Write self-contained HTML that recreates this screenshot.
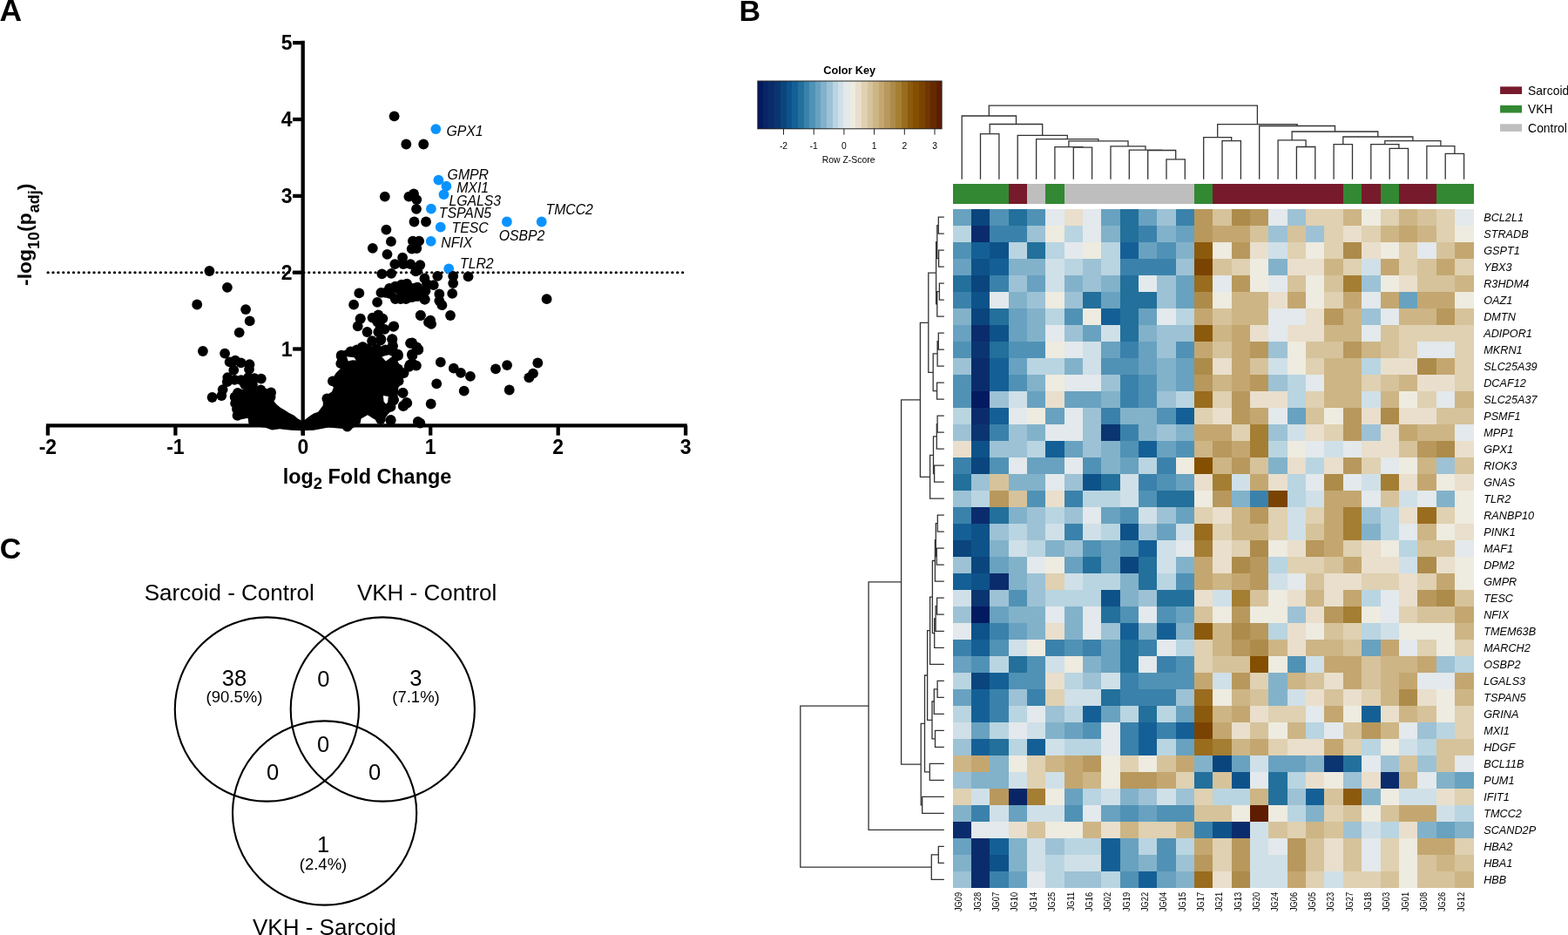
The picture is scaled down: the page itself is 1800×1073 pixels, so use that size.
<!DOCTYPE html>
<html><head><meta charset="utf-8"><title>Figure</title>
<style>html,body{margin:0;padding:0;background:#fff;} body{width:1800px;height:1073px;overflow:hidden;} svg{display:block;}</style>
</head><body>
<svg width="1800" height="1073" viewBox="0 0 1800 1073"><text x="-0.6" y="23.8" font-size="35.5" font-weight="bold" font-family="Liberation Sans, Arial, Helvetica, sans-serif">A</text>
<text x="848.5" y="23.8" font-size="34" font-weight="bold" font-family="Liberation Sans, Arial, Helvetica, sans-serif">B</text>
<text x="-0.3" y="641.2" font-size="34" font-weight="bold" font-family="Liberation Sans, Arial, Helvetica, sans-serif">C</text>
<line x1="53" y1="488.4" x2="788.7" y2="488.4" stroke="#000" stroke-width="4.3"/>
<line x1="54.9" y1="488.4" x2="54.9" y2="499.7" stroke="#000" stroke-width="4.3"/>
<text x="54.9" y="520.6" font-size="23" font-weight="bold" text-anchor="middle" font-family="Liberation Sans, Arial, Helvetica, sans-serif">-2</text>
<line x1="201.4" y1="488.4" x2="201.4" y2="499.7" stroke="#000" stroke-width="4.3"/>
<text x="201.4" y="520.6" font-size="23" font-weight="bold" text-anchor="middle" font-family="Liberation Sans, Arial, Helvetica, sans-serif">-1</text>
<line x1="347.8" y1="488.4" x2="347.8" y2="499.7" stroke="#000" stroke-width="4.3"/>
<text x="347.8" y="520.6" font-size="23" font-weight="bold" text-anchor="middle" font-family="Liberation Sans, Arial, Helvetica, sans-serif">0</text>
<line x1="494.2" y1="488.4" x2="494.2" y2="499.7" stroke="#000" stroke-width="4.3"/>
<text x="494.2" y="520.6" font-size="23" font-weight="bold" text-anchor="middle" font-family="Liberation Sans, Arial, Helvetica, sans-serif">1</text>
<line x1="640.7" y1="488.4" x2="640.7" y2="499.7" stroke="#000" stroke-width="4.3"/>
<text x="640.7" y="520.6" font-size="23" font-weight="bold" text-anchor="middle" font-family="Liberation Sans, Arial, Helvetica, sans-serif">2</text>
<line x1="787.1" y1="488.4" x2="787.1" y2="499.7" stroke="#000" stroke-width="4.3"/>
<text x="787.1" y="520.6" font-size="23" font-weight="bold" text-anchor="middle" font-family="Liberation Sans, Arial, Helvetica, sans-serif">3</text>
<line x1="347.7" y1="46.8" x2="347.7" y2="499.7" stroke="#000" stroke-width="4.3"/>
<line x1="336.1" y1="400.5" x2="347.7" y2="400.5" stroke="#000" stroke-width="4.3"/>
<text x="335.6" y="408.8" font-size="23" font-weight="bold" text-anchor="end" font-family="Liberation Sans, Arial, Helvetica, sans-serif">1</text>
<line x1="336.1" y1="312.7" x2="347.7" y2="312.7" stroke="#000" stroke-width="4.3"/>
<text x="335.6" y="321.0" font-size="23" font-weight="bold" text-anchor="end" font-family="Liberation Sans, Arial, Helvetica, sans-serif">2</text>
<line x1="336.1" y1="224.9" x2="347.7" y2="224.9" stroke="#000" stroke-width="4.3"/>
<text x="335.6" y="233.2" font-size="23" font-weight="bold" text-anchor="end" font-family="Liberation Sans, Arial, Helvetica, sans-serif">3</text>
<line x1="336.1" y1="137.0" x2="347.7" y2="137.0" stroke="#000" stroke-width="4.3"/>
<text x="335.6" y="145.3" font-size="23" font-weight="bold" text-anchor="end" font-family="Liberation Sans, Arial, Helvetica, sans-serif">4</text>
<line x1="336.1" y1="49.1" x2="347.7" y2="49.1" stroke="#000" stroke-width="4.3"/>
<text x="335.6" y="57.4" font-size="23" font-weight="bold" text-anchor="end" font-family="Liberation Sans, Arial, Helvetica, sans-serif">5</text>
<text x="421.5" y="555.1" font-size="23.4" font-weight="bold" text-anchor="middle" font-family="Liberation Sans, Arial, Helvetica, sans-serif">log<tspan font-size="18.4" dy="5.6">2</tspan><tspan dy="-5.6"> Fold Change</tspan></text>
<text transform="translate(36.3,269.3) rotate(-90)" x="0" y="0" font-size="22.9" font-weight="bold" text-anchor="middle" font-family="Liberation Sans, Arial, Helvetica, sans-serif">-log<tspan font-size="18" dy="8.6">10</tspan><tspan dy="-8.6">(p</tspan><tspan font-size="18" dy="8.6">adj</tspan><tspan dy="-8.6">)</tspan></text>
<g fill="#000"><ellipse cx="55.15" cy="312.7" rx="1.65" ry="1.5"/><ellipse cx="61.02" cy="312.7" rx="1.65" ry="1.5"/><ellipse cx="66.90" cy="312.7" rx="1.65" ry="1.5"/><ellipse cx="72.78" cy="312.7" rx="1.65" ry="1.5"/><ellipse cx="78.65" cy="312.7" rx="1.65" ry="1.5"/><ellipse cx="84.53" cy="312.7" rx="1.65" ry="1.5"/><ellipse cx="90.40" cy="312.7" rx="1.65" ry="1.5"/><ellipse cx="96.28" cy="312.7" rx="1.65" ry="1.5"/><ellipse cx="102.15" cy="312.7" rx="1.65" ry="1.5"/><ellipse cx="108.03" cy="312.7" rx="1.65" ry="1.5"/><ellipse cx="113.90" cy="312.7" rx="1.65" ry="1.5"/><ellipse cx="119.78" cy="312.7" rx="1.65" ry="1.5"/><ellipse cx="125.65" cy="312.7" rx="1.65" ry="1.5"/><ellipse cx="131.53" cy="312.7" rx="1.65" ry="1.5"/><ellipse cx="137.40" cy="312.7" rx="1.65" ry="1.5"/><ellipse cx="143.28" cy="312.7" rx="1.65" ry="1.5"/><ellipse cx="149.15" cy="312.7" rx="1.65" ry="1.5"/><ellipse cx="155.03" cy="312.7" rx="1.65" ry="1.5"/><ellipse cx="160.90" cy="312.7" rx="1.65" ry="1.5"/><ellipse cx="166.78" cy="312.7" rx="1.65" ry="1.5"/><ellipse cx="172.65" cy="312.7" rx="1.65" ry="1.5"/><ellipse cx="178.53" cy="312.7" rx="1.65" ry="1.5"/><ellipse cx="184.40" cy="312.7" rx="1.65" ry="1.5"/><ellipse cx="190.28" cy="312.7" rx="1.65" ry="1.5"/><ellipse cx="196.15" cy="312.7" rx="1.65" ry="1.5"/><ellipse cx="202.03" cy="312.7" rx="1.65" ry="1.5"/><ellipse cx="207.90" cy="312.7" rx="1.65" ry="1.5"/><ellipse cx="213.78" cy="312.7" rx="1.65" ry="1.5"/><ellipse cx="219.65" cy="312.7" rx="1.65" ry="1.5"/><ellipse cx="225.53" cy="312.7" rx="1.65" ry="1.5"/><ellipse cx="231.40" cy="312.7" rx="1.65" ry="1.5"/><ellipse cx="237.28" cy="312.7" rx="1.65" ry="1.5"/><ellipse cx="243.15" cy="312.7" rx="1.65" ry="1.5"/><ellipse cx="249.03" cy="312.7" rx="1.65" ry="1.5"/><ellipse cx="254.90" cy="312.7" rx="1.65" ry="1.5"/><ellipse cx="260.77" cy="312.7" rx="1.65" ry="1.5"/><ellipse cx="266.65" cy="312.7" rx="1.65" ry="1.5"/><ellipse cx="272.52" cy="312.7" rx="1.65" ry="1.5"/><ellipse cx="278.40" cy="312.7" rx="1.65" ry="1.5"/><ellipse cx="284.27" cy="312.7" rx="1.65" ry="1.5"/><ellipse cx="290.15" cy="312.7" rx="1.65" ry="1.5"/><ellipse cx="296.02" cy="312.7" rx="1.65" ry="1.5"/><ellipse cx="301.90" cy="312.7" rx="1.65" ry="1.5"/><ellipse cx="307.77" cy="312.7" rx="1.65" ry="1.5"/><ellipse cx="313.65" cy="312.7" rx="1.65" ry="1.5"/><ellipse cx="319.52" cy="312.7" rx="1.65" ry="1.5"/><ellipse cx="325.40" cy="312.7" rx="1.65" ry="1.5"/><ellipse cx="331.27" cy="312.7" rx="1.65" ry="1.5"/><ellipse cx="337.15" cy="312.7" rx="1.65" ry="1.5"/><ellipse cx="343.02" cy="312.7" rx="1.65" ry="1.5"/><ellipse cx="348.90" cy="312.7" rx="1.65" ry="1.5"/><ellipse cx="354.77" cy="312.7" rx="1.65" ry="1.5"/><ellipse cx="360.65" cy="312.7" rx="1.65" ry="1.5"/><ellipse cx="366.52" cy="312.7" rx="1.65" ry="1.5"/><ellipse cx="372.40" cy="312.7" rx="1.65" ry="1.5"/><ellipse cx="378.27" cy="312.7" rx="1.65" ry="1.5"/><ellipse cx="384.15" cy="312.7" rx="1.65" ry="1.5"/><ellipse cx="390.02" cy="312.7" rx="1.65" ry="1.5"/><ellipse cx="395.90" cy="312.7" rx="1.65" ry="1.5"/><ellipse cx="401.77" cy="312.7" rx="1.65" ry="1.5"/><ellipse cx="407.65" cy="312.7" rx="1.65" ry="1.5"/><ellipse cx="413.52" cy="312.7" rx="1.65" ry="1.5"/><ellipse cx="419.40" cy="312.7" rx="1.65" ry="1.5"/><ellipse cx="425.27" cy="312.7" rx="1.65" ry="1.5"/><ellipse cx="431.15" cy="312.7" rx="1.65" ry="1.5"/><ellipse cx="437.02" cy="312.7" rx="1.65" ry="1.5"/><ellipse cx="442.90" cy="312.7" rx="1.65" ry="1.5"/><ellipse cx="448.77" cy="312.7" rx="1.65" ry="1.5"/><ellipse cx="454.65" cy="312.7" rx="1.65" ry="1.5"/><ellipse cx="460.52" cy="312.7" rx="1.65" ry="1.5"/><ellipse cx="466.40" cy="312.7" rx="1.65" ry="1.5"/><ellipse cx="472.27" cy="312.7" rx="1.65" ry="1.5"/><ellipse cx="478.15" cy="312.7" rx="1.65" ry="1.5"/><ellipse cx="484.02" cy="312.7" rx="1.65" ry="1.5"/><ellipse cx="489.90" cy="312.7" rx="1.65" ry="1.5"/><ellipse cx="495.77" cy="312.7" rx="1.65" ry="1.5"/><ellipse cx="501.65" cy="312.7" rx="1.65" ry="1.5"/><ellipse cx="507.52" cy="312.7" rx="1.65" ry="1.5"/><ellipse cx="513.40" cy="312.7" rx="1.65" ry="1.5"/><ellipse cx="519.27" cy="312.7" rx="1.65" ry="1.5"/><ellipse cx="525.15" cy="312.7" rx="1.65" ry="1.5"/><ellipse cx="531.02" cy="312.7" rx="1.65" ry="1.5"/><ellipse cx="536.90" cy="312.7" rx="1.65" ry="1.5"/><ellipse cx="542.77" cy="312.7" rx="1.65" ry="1.5"/><ellipse cx="548.65" cy="312.7" rx="1.65" ry="1.5"/><ellipse cx="554.52" cy="312.7" rx="1.65" ry="1.5"/><ellipse cx="560.40" cy="312.7" rx="1.65" ry="1.5"/><ellipse cx="566.27" cy="312.7" rx="1.65" ry="1.5"/><ellipse cx="572.15" cy="312.7" rx="1.65" ry="1.5"/><ellipse cx="578.02" cy="312.7" rx="1.65" ry="1.5"/><ellipse cx="583.90" cy="312.7" rx="1.65" ry="1.5"/><ellipse cx="589.77" cy="312.7" rx="1.65" ry="1.5"/><ellipse cx="595.65" cy="312.7" rx="1.65" ry="1.5"/><ellipse cx="601.52" cy="312.7" rx="1.65" ry="1.5"/><ellipse cx="607.40" cy="312.7" rx="1.65" ry="1.5"/><ellipse cx="613.27" cy="312.7" rx="1.65" ry="1.5"/><ellipse cx="619.15" cy="312.7" rx="1.65" ry="1.5"/><ellipse cx="625.02" cy="312.7" rx="1.65" ry="1.5"/><ellipse cx="630.90" cy="312.7" rx="1.65" ry="1.5"/><ellipse cx="636.77" cy="312.7" rx="1.65" ry="1.5"/><ellipse cx="642.65" cy="312.7" rx="1.65" ry="1.5"/><ellipse cx="648.52" cy="312.7" rx="1.65" ry="1.5"/><ellipse cx="654.40" cy="312.7" rx="1.65" ry="1.5"/><ellipse cx="660.27" cy="312.7" rx="1.65" ry="1.5"/><ellipse cx="666.15" cy="312.7" rx="1.65" ry="1.5"/><ellipse cx="672.02" cy="312.7" rx="1.65" ry="1.5"/><ellipse cx="677.90" cy="312.7" rx="1.65" ry="1.5"/><ellipse cx="683.77" cy="312.7" rx="1.65" ry="1.5"/><ellipse cx="689.65" cy="312.7" rx="1.65" ry="1.5"/><ellipse cx="695.52" cy="312.7" rx="1.65" ry="1.5"/><ellipse cx="701.40" cy="312.7" rx="1.65" ry="1.5"/><ellipse cx="707.27" cy="312.7" rx="1.65" ry="1.5"/><ellipse cx="713.15" cy="312.7" rx="1.65" ry="1.5"/><ellipse cx="719.02" cy="312.7" rx="1.65" ry="1.5"/><ellipse cx="724.90" cy="312.7" rx="1.65" ry="1.5"/><ellipse cx="730.77" cy="312.7" rx="1.65" ry="1.5"/><ellipse cx="736.65" cy="312.7" rx="1.65" ry="1.5"/><ellipse cx="742.52" cy="312.7" rx="1.65" ry="1.5"/><ellipse cx="748.40" cy="312.7" rx="1.65" ry="1.5"/><ellipse cx="754.27" cy="312.7" rx="1.65" ry="1.5"/><ellipse cx="760.15" cy="312.7" rx="1.65" ry="1.5"/><ellipse cx="766.02" cy="312.7" rx="1.65" ry="1.5"/><ellipse cx="771.90" cy="312.7" rx="1.65" ry="1.5"/><ellipse cx="777.77" cy="312.7" rx="1.65" ry="1.5"/><ellipse cx="783.65" cy="312.7" rx="1.65" ry="1.5"/></g>
<g fill="#0a93ff">
<circle cx="500.3" cy="148.1" r="5.9"/>
<circle cx="503.4" cy="206.7" r="5.9"/>
<circle cx="512.4" cy="213.7" r="5.9"/>
<circle cx="509.5" cy="223.2" r="5.9"/>
<circle cx="494.9" cy="239.7" r="5.9"/>
<circle cx="505.7" cy="260.7" r="5.9"/>
<circle cx="494.7" cy="276.8" r="5.9"/>
<circle cx="515.2" cy="308.3" r="5.9"/>
<circle cx="581.9" cy="254.5" r="5.9"/>
<circle cx="621.7" cy="254.5" r="5.9"/>
</g>
<g fill="#000">
<polygon points="266.0,462.5 264.1,455.8 266.7,451.3 271.2,448.3 277.2,446.8 285.0,446.0 292.0,444.0 300.0,444.0 304.7,445.4 307.7,446.8 312.2,445.4 316.3,449.8 315.9,455.8 314.4,460.3 317.4,464.0 321.9,467.7 327.1,470.7 331.6,473.7 337.6,476.7 342.0,480.4 345.8,482.6 349.5,481.9 355.5,477.4 360.0,474.4 365.2,472.7 370.8,465.2 370.8,455.9 375.4,453.1 381.0,449.4 382.9,444.7 378.2,437.3 382.9,432.6 385.7,428.0 391.3,422.4 387.5,416.8 386.6,408.4 392.2,403.7 400.0,400.0 410.0,399.0 420.0,397.0 432.0,398.0 445.0,397.0 452.0,395.0 456.0,400.0 461.2,408.4 456.5,414.9 462.1,423.3 463.0,437.3 457.4,444.7 456.5,455.9 453.7,467.1 445.3,475.5 440.7,482.0 436.9,484.8 429.5,481.0 422.0,476.3 414.6,480.6 413.6,485.7 403.4,492.3 395.9,492.3 377.3,490.4 360.0,493.8 345.8,494.2 334.6,493.8 327.1,493.1 321.1,492.3 312.2,493.5 304.7,490.8 290.0,489.0 285.4,486.0 284.6,479.7 278.6,481.1 271.9,481.9 267.8,477.4 268.9,472.2 266.7,466.2"/>
<circle cx="452.6" cy="133.3" r="5.9"/>
<circle cx="466.3" cy="165.5" r="5.9"/>
<circle cx="486.2" cy="165.5" r="5.9"/>
<circle cx="441.8" cy="225.6" r="5.9"/>
<circle cx="469.4" cy="225.6" r="5.9"/>
<circle cx="475.0" cy="222.4" r="5.9"/>
<circle cx="478.3" cy="229.1" r="5.9"/>
<circle cx="478.0" cy="239.8" r="5.9"/>
<circle cx="475.5" cy="254.5" r="5.9"/>
<circle cx="489.0" cy="254.5" r="5.9"/>
<circle cx="443.4" cy="263.6" r="5.9"/>
<circle cx="448.9" cy="277.2" r="5.9"/>
<circle cx="427.8" cy="284.8" r="5.9"/>
<circle cx="444.5" cy="291.8" r="5.9"/>
<circle cx="473.9" cy="276.7" r="5.9"/>
<circle cx="481.1" cy="276.7" r="5.9"/>
<circle cx="472.7" cy="285.6" r="5.9"/>
<circle cx="478.3" cy="285.0" r="5.9"/>
<circle cx="462.1" cy="295.7" r="5.9"/>
<circle cx="438.4" cy="314.3" r="5.9"/>
<circle cx="449.2" cy="313.8" r="5.9"/>
<circle cx="453.3" cy="303.1" r="5.9"/>
<circle cx="463.0" cy="303.1" r="5.9"/>
<circle cx="471.2" cy="303.1" r="5.9"/>
<circle cx="477.3" cy="311.3" r="5.9"/>
<circle cx="482.3" cy="304.1" r="5.9"/>
<circle cx="412.3" cy="336.4" r="5.9"/>
<circle cx="406.1" cy="349.7" r="5.9"/>
<circle cx="433.1" cy="346.9" r="5.9"/>
<circle cx="437.4" cy="335.9" r="5.9"/>
<circle cx="442.5" cy="335.9" r="5.9"/>
<circle cx="453.8" cy="328.7" r="5.9"/>
<circle cx="453.8" cy="343.0" r="5.9"/>
<circle cx="460.9" cy="326.6" r="5.9"/>
<circle cx="467.1" cy="325.6" r="5.9"/>
<circle cx="459.9" cy="343.0" r="5.9"/>
<circle cx="470.2" cy="341.0" r="5.9"/>
<circle cx="476.3" cy="330.7" r="5.9"/>
<circle cx="413.8" cy="365.6" r="5.9"/>
<circle cx="410.7" cy="374.3" r="5.9"/>
<circle cx="421.5" cy="381.0" r="5.9"/>
<circle cx="427.6" cy="364.6" r="5.9"/>
<circle cx="434.3" cy="361.5" r="5.9"/>
<circle cx="439.4" cy="365.6" r="5.9"/>
<circle cx="436.3" cy="373.8" r="5.9"/>
<circle cx="434.3" cy="381.0" r="5.9"/>
<circle cx="441.5" cy="377.9" r="5.9"/>
<circle cx="452.2" cy="374.3" r="5.9"/>
<circle cx="450.2" cy="389.2" r="5.9"/>
<circle cx="437.4" cy="389.2" r="5.9"/>
<circle cx="427.1" cy="391.2" r="5.9"/>
<circle cx="471.2" cy="393.8" r="5.9"/>
<circle cx="450.7" cy="396.3" r="5.9"/>
<circle cx="415.8" cy="398.4" r="5.9"/>
<circle cx="409.7" cy="401.5" r="5.9"/>
<circle cx="402.5" cy="403.5" r="5.9"/>
<circle cx="391.8" cy="407.6" r="5.9"/>
<circle cx="422.0" cy="400.4" r="5.9"/>
<circle cx="432.2" cy="400.4" r="5.9"/>
<circle cx="442.5" cy="401.5" r="5.9"/>
<circle cx="456.8" cy="406.6" r="5.9"/>
<circle cx="473.2" cy="406.6" r="5.9"/>
<circle cx="478.4" cy="398.4" r="5.9"/>
<circle cx="487.8" cy="343.7" r="5.9"/>
<circle cx="482.8" cy="361.8" r="5.9"/>
<circle cx="491.9" cy="369.8" r="5.9"/>
<circle cx="436.8" cy="390.7" r="5.9"/>
<circle cx="416.6" cy="398.2" r="5.9"/>
<circle cx="480.0" cy="401.1" r="5.9"/>
<circle cx="472.6" cy="417.6" r="5.9"/>
<circle cx="448.7" cy="416.8" r="5.9"/>
<circle cx="421.1" cy="403.4" r="5.9"/>
<circle cx="413.5" cy="366.1" r="5.9"/>
<circle cx="458.0" cy="332.0" r="5.9"/>
<circle cx="462.0" cy="338.0" r="5.9"/>
<circle cx="448.0" cy="337.0" r="5.9"/>
<circle cx="447.0" cy="331.0" r="5.9"/>
<circle cx="485.0" cy="336.0" r="5.9"/>
<circle cx="466.0" cy="343.0" r="5.9"/>
<circle cx="465.0" cy="335.0" r="5.9"/>
<circle cx="483.0" cy="336.0" r="5.9"/>
<circle cx="490.0" cy="326.0" r="5.9"/>
<circle cx="433.0" cy="369.0" r="5.9"/>
<circle cx="479.2" cy="310.3" r="5.9"/>
<circle cx="487.4" cy="319.5" r="5.9"/>
<circle cx="502.3" cy="316.9" r="5.9"/>
<circle cx="497.7" cy="327.2" r="5.9"/>
<circle cx="472.1" cy="330.8" r="5.9"/>
<circle cx="479.2" cy="329.7" r="5.9"/>
<circle cx="488.5" cy="333.8" r="5.9"/>
<circle cx="473.1" cy="341.0" r="5.9"/>
<circle cx="479.2" cy="340.0" r="5.9"/>
<circle cx="487.4" cy="343.6" r="5.9"/>
<circle cx="504.3" cy="337.4" r="5.9"/>
<circle cx="504.3" cy="345.1" r="5.9"/>
<circle cx="507.4" cy="350.2" r="5.9"/>
<circle cx="520.2" cy="316.9" r="5.9"/>
<circle cx="520.2" cy="325.1" r="5.9"/>
<circle cx="519.2" cy="336.9" r="5.9"/>
<circle cx="537.5" cy="317.4" r="5.9"/>
<circle cx="627.6" cy="343.2" r="5.9"/>
<circle cx="482.8" cy="362.0" r="5.9"/>
<circle cx="494.1" cy="367.7" r="5.9"/>
<circle cx="495.1" cy="371.8" r="5.9"/>
<circle cx="517.0" cy="362.0" r="5.9"/>
<circle cx="473.1" cy="393.3" r="5.9"/>
<circle cx="480.3" cy="401.0" r="5.9"/>
<circle cx="473.1" cy="406.6" r="5.9"/>
<circle cx="451.5" cy="374.8" r="5.9"/>
<circle cx="450.3" cy="389.4" r="5.9"/>
<circle cx="450.9" cy="397.3" r="5.9"/>
<circle cx="471.3" cy="393.9" r="5.9"/>
<circle cx="480.0" cy="401.5" r="5.9"/>
<circle cx="473.3" cy="408.2" r="5.9"/>
<circle cx="457.0" cy="408.2" r="5.9"/>
<circle cx="475.1" cy="418.4" r="5.9"/>
<circle cx="469.7" cy="420.9" r="5.9"/>
<circle cx="463.6" cy="428.1" r="5.9"/>
<circle cx="457.0" cy="423.3" r="5.9"/>
<circle cx="457.6" cy="437.2" r="5.9"/>
<circle cx="462.4" cy="450.9" r="5.9"/>
<circle cx="452.1" cy="459.0" r="5.9"/>
<circle cx="463.0" cy="465.7" r="5.9"/>
<circle cx="467.3" cy="462.7" r="5.9"/>
<circle cx="448.5" cy="466.9" r="5.9"/>
<circle cx="448.5" cy="482.6" r="5.9"/>
<circle cx="482.4" cy="485.7" r="5.9"/>
<circle cx="505.8" cy="415.7" r="5.9"/>
<circle cx="520.8" cy="422.7" r="5.9"/>
<circle cx="529.0" cy="427.9" r="5.9"/>
<circle cx="539.9" cy="431.8" r="5.9"/>
<circle cx="501.2" cy="440.3" r="5.9"/>
<circle cx="532.7" cy="448.7" r="5.9"/>
<circle cx="494.7" cy="463.5" r="5.9"/>
<circle cx="569.0" cy="423.3" r="5.9"/>
<circle cx="582.1" cy="419.1" r="5.9"/>
<circle cx="584.7" cy="447.5" r="5.9"/>
<circle cx="617.3" cy="416.5" r="5.9"/>
<circle cx="607.3" cy="433.3" r="5.9"/>
<circle cx="612.0" cy="428.6" r="5.9"/>
<circle cx="462.6" cy="450.8" r="5.9"/>
<circle cx="466.7" cy="462.0" r="5.9"/>
<circle cx="463.0" cy="466.2" r="5.9"/>
<circle cx="448.6" cy="482.0" r="5.9"/>
<circle cx="470.5" cy="418.6" r="5.9"/>
<circle cx="477.9" cy="419.6" r="5.9"/>
<circle cx="479.8" cy="483.9" r="5.9"/>
<circle cx="391.7" cy="408.4" r="5.9"/>
<circle cx="391.3" cy="417.2" r="5.9"/>
<circle cx="381.9" cy="437.3" r="5.9"/>
<circle cx="375.4" cy="457.3" r="5.9"/>
<circle cx="398.7" cy="489.5" r="5.9"/>
<circle cx="436.9" cy="481.1" r="5.9"/>
<circle cx="240.4" cy="311.0" r="5.9"/>
<circle cx="260.9" cy="329.8" r="5.9"/>
<circle cx="226.2" cy="349.5" r="5.9"/>
<circle cx="282.1" cy="355.1" r="5.9"/>
<circle cx="286.7" cy="368.4" r="5.9"/>
<circle cx="274.7" cy="381.6" r="5.9"/>
<circle cx="232.9" cy="403.0" r="5.9"/>
<circle cx="258.1" cy="405.6" r="5.9"/>
<circle cx="263.6" cy="415.4" r="5.9"/>
<circle cx="270.1" cy="413.6" r="5.9"/>
<circle cx="276.7" cy="416.3" r="5.9"/>
<circle cx="286.5" cy="418.2" r="5.9"/>
<circle cx="268.3" cy="424.7" r="5.9"/>
<circle cx="286.0" cy="423.8" r="5.9"/>
<circle cx="261.3" cy="433.1" r="5.9"/>
<circle cx="260.8" cy="438.2" r="5.9"/>
<circle cx="269.2" cy="435.9" r="5.9"/>
<circle cx="276.8" cy="436.1" r="5.9"/>
<circle cx="285.0" cy="433.1" r="5.9"/>
<circle cx="292.2" cy="434.1" r="5.9"/>
<circle cx="299.8" cy="434.6" r="5.9"/>
<circle cx="281.0" cy="441.0" r="5.9"/>
<circle cx="290.0" cy="441.0" r="5.9"/>
<circle cx="255.7" cy="447.1" r="5.9"/>
<circle cx="254.3" cy="454.1" r="5.9"/>
<circle cx="243.6" cy="456.0" r="5.9"/>
<circle cx="269.7" cy="455.5" r="5.9"/>
<circle cx="272.9" cy="450.8" r="5.9"/>
<circle cx="270.1" cy="462.9" r="5.9"/>
<circle cx="272.0" cy="469.5" r="5.9"/>
<circle cx="272.5" cy="476.9" r="5.9"/>
<circle cx="281.9" cy="474.1" r="5.9"/>
<circle cx="289.1" cy="447.4" r="5.9"/>
<circle cx="299.3" cy="447.4" r="5.9"/>
<circle cx="311.1" cy="450.5" r="5.9"/>
<circle cx="310.6" cy="455.6" r="5.9"/>
</g>
<g fill="#fff">
<polygon points="398.0,409.2 399.8,414.6 404.5,413.3 408.8,413.4 406.5,410.2 402.0,409.8"/>
<polygon points="438.4,409.4 442.9,414.6 450.3,409.0 446.6,407.2 442.1,408.3"/>
<polygon points="439.9,454.1 445.8,454.9 445.1,461.6 443.2,463.8 440.6,460.8"/>
</g>
<text x="512.5" y="155.7" font-size="15.8" font-style="italic" font-family="Liberation Sans, Arial, Helvetica, sans-serif">GPX1</text>
<text x="513.6" y="206.1" font-size="15.8" font-style="italic" font-family="Liberation Sans, Arial, Helvetica, sans-serif">GMPR</text>
<text x="524.2" y="220.8" font-size="15.8" font-style="italic" font-family="Liberation Sans, Arial, Helvetica, sans-serif">MXI1</text>
<text x="515.4" y="235.7" font-size="15.8" font-style="italic" font-family="Liberation Sans, Arial, Helvetica, sans-serif">LGALS3</text>
<text x="503.8" y="250.4" font-size="15.8" font-style="italic" font-family="Liberation Sans, Arial, Helvetica, sans-serif">TSPAN5</text>
<text x="518.6" y="267.2" font-size="15.8" font-style="italic" font-family="Liberation Sans, Arial, Helvetica, sans-serif">TESC</text>
<text x="506.3" y="283.9" font-size="15.8" font-style="italic" font-family="Liberation Sans, Arial, Helvetica, sans-serif">NFIX</text>
<text x="528.0" y="308.0" font-size="15.8" font-style="italic" font-family="Liberation Sans, Arial, Helvetica, sans-serif">TLR2</text>
<text x="572.7" y="276.0" font-size="15.8" font-style="italic" font-family="Liberation Sans, Arial, Helvetica, sans-serif">OSBP2</text>
<text x="626.5" y="245.9" font-size="15.8" font-style="italic" font-family="Liberation Sans, Arial, Helvetica, sans-serif">TMCC2</text>
<g shape-rendering="crispEdges"><rect x="1093.50" y="239.60" width="21.75" height="19.41" fill="#68a2c0"/><rect x="1114.85" y="239.60" width="21.75" height="19.41" fill="#0a457d"/><rect x="1136.20" y="239.60" width="21.75" height="19.41" fill="#5092b5"/><rect x="1157.54" y="239.60" width="21.75" height="19.41" fill="#22709b"/><rect x="1178.89" y="239.60" width="21.75" height="19.41" fill="#5092b5"/><rect x="1200.24" y="239.60" width="21.75" height="19.41" fill="#e3e9ec"/><rect x="1221.59" y="239.60" width="21.75" height="19.41" fill="#e9dfcc"/><rect x="1242.94" y="239.60" width="21.75" height="19.41" fill="#e3e9ec"/><rect x="1264.28" y="239.60" width="21.75" height="19.41" fill="#68a2c0"/><rect x="1285.63" y="239.60" width="21.75" height="19.41" fill="#22709b"/><rect x="1306.98" y="239.60" width="21.75" height="19.41" fill="#68a2c0"/><rect x="1328.33" y="239.60" width="21.75" height="19.41" fill="#9dc2d5"/><rect x="1349.68" y="239.60" width="21.75" height="19.41" fill="#3a82ab"/><rect x="1371.02" y="239.60" width="21.75" height="19.41" fill="#b8985c"/><rect x="1392.37" y="239.60" width="21.75" height="19.41" fill="#d6c39b"/><rect x="1413.72" y="239.60" width="21.75" height="19.41" fill="#ad8b4a"/><rect x="1435.07" y="239.60" width="21.75" height="19.41" fill="#b8985c"/><rect x="1456.42" y="239.60" width="21.75" height="19.41" fill="#e3e9ec"/><rect x="1477.76" y="239.60" width="21.75" height="19.41" fill="#9dc2d5"/><rect x="1499.11" y="239.60" width="21.75" height="19.41" fill="#dfd1b1"/><rect x="1520.46" y="239.60" width="21.75" height="19.41" fill="#dfd1b1"/><rect x="1541.81" y="239.60" width="21.75" height="19.41" fill="#cdb585"/><rect x="1563.16" y="239.60" width="21.75" height="19.41" fill="#eeebe0"/><rect x="1584.50" y="239.60" width="21.75" height="19.41" fill="#dfd1b1"/><rect x="1605.85" y="239.60" width="21.75" height="19.41" fill="#cdb585"/><rect x="1627.20" y="239.60" width="21.75" height="19.41" fill="#d6c39b"/><rect x="1648.55" y="239.60" width="21.75" height="19.41" fill="#dfd1b1"/><rect x="1669.90" y="239.60" width="21.75" height="19.41" fill="#e3e9ec"/><rect x="1093.50" y="258.61" width="21.75" height="19.41" fill="#b9d5e1"/><rect x="1114.85" y="258.61" width="21.75" height="19.41" fill="#0b2c6c"/><rect x="1136.20" y="258.61" width="21.75" height="19.41" fill="#3a82ab"/><rect x="1157.54" y="258.61" width="21.75" height="19.41" fill="#3a82ab"/><rect x="1178.89" y="258.61" width="21.75" height="19.41" fill="#9dc2d5"/><rect x="1200.24" y="258.61" width="21.75" height="19.41" fill="#eeebe0"/><rect x="1221.59" y="258.61" width="21.75" height="19.41" fill="#b9d5e1"/><rect x="1242.94" y="258.61" width="21.75" height="19.41" fill="#e3e9ec"/><rect x="1264.28" y="258.61" width="21.75" height="19.41" fill="#82b2ca"/><rect x="1285.63" y="258.61" width="21.75" height="19.41" fill="#22709b"/><rect x="1306.98" y="258.61" width="21.75" height="19.41" fill="#3a82ab"/><rect x="1328.33" y="258.61" width="21.75" height="19.41" fill="#82b2ca"/><rect x="1349.68" y="258.61" width="21.75" height="19.41" fill="#68a2c0"/><rect x="1371.02" y="258.61" width="21.75" height="19.41" fill="#b8985c"/><rect x="1392.37" y="258.61" width="21.75" height="19.41" fill="#c4a770"/><rect x="1413.72" y="258.61" width="21.75" height="19.41" fill="#c4a770"/><rect x="1435.07" y="258.61" width="21.75" height="19.41" fill="#d6c39b"/><rect x="1456.42" y="258.61" width="21.75" height="19.41" fill="#9dc2d5"/><rect x="1477.76" y="258.61" width="21.75" height="19.41" fill="#d6c39b"/><rect x="1499.11" y="258.61" width="21.75" height="19.41" fill="#9dc2d5"/><rect x="1520.46" y="258.61" width="21.75" height="19.41" fill="#dfd1b1"/><rect x="1541.81" y="258.61" width="21.75" height="19.41" fill="#e9dfcc"/><rect x="1563.16" y="258.61" width="21.75" height="19.41" fill="#dfd1b1"/><rect x="1584.50" y="258.61" width="21.75" height="19.41" fill="#cdb585"/><rect x="1605.85" y="258.61" width="21.75" height="19.41" fill="#c4a770"/><rect x="1627.20" y="258.61" width="21.75" height="19.41" fill="#cdb585"/><rect x="1648.55" y="258.61" width="21.75" height="19.41" fill="#dfd1b1"/><rect x="1669.90" y="258.61" width="21.75" height="19.41" fill="#eeebe0"/><rect x="1093.50" y="277.61" width="21.75" height="19.41" fill="#5092b5"/><rect x="1114.85" y="277.61" width="21.75" height="19.41" fill="#146096"/><rect x="1136.20" y="277.61" width="21.75" height="19.41" fill="#0e528a"/><rect x="1157.54" y="277.61" width="21.75" height="19.41" fill="#b9d5e1"/><rect x="1178.89" y="277.61" width="21.75" height="19.41" fill="#22709b"/><rect x="1200.24" y="277.61" width="21.75" height="19.41" fill="#b9d5e1"/><rect x="1221.59" y="277.61" width="21.75" height="19.41" fill="#e3e9ec"/><rect x="1242.94" y="277.61" width="21.75" height="19.41" fill="#eeebe0"/><rect x="1264.28" y="277.61" width="21.75" height="19.41" fill="#b9d5e1"/><rect x="1285.63" y="277.61" width="21.75" height="19.41" fill="#146096"/><rect x="1306.98" y="277.61" width="21.75" height="19.41" fill="#68a2c0"/><rect x="1328.33" y="277.61" width="21.75" height="19.41" fill="#5092b5"/><rect x="1349.68" y="277.61" width="21.75" height="19.41" fill="#82b2ca"/><rect x="1371.02" y="277.61" width="21.75" height="19.41" fill="#8c5a0c"/><rect x="1392.37" y="277.61" width="21.75" height="19.41" fill="#eeebe0"/><rect x="1413.72" y="277.61" width="21.75" height="19.41" fill="#b8985c"/><rect x="1435.07" y="277.61" width="21.75" height="19.41" fill="#e9dfcc"/><rect x="1456.42" y="277.61" width="21.75" height="19.41" fill="#d0e0e8"/><rect x="1477.76" y="277.61" width="21.75" height="19.41" fill="#dfd1b1"/><rect x="1499.11" y="277.61" width="21.75" height="19.41" fill="#eeebe0"/><rect x="1520.46" y="277.61" width="21.75" height="19.41" fill="#dfd1b1"/><rect x="1541.81" y="277.61" width="21.75" height="19.41" fill="#ad8b4a"/><rect x="1563.16" y="277.61" width="21.75" height="19.41" fill="#e9dfcc"/><rect x="1584.50" y="277.61" width="21.75" height="19.41" fill="#eeebe0"/><rect x="1605.85" y="277.61" width="21.75" height="19.41" fill="#dfd1b1"/><rect x="1627.20" y="277.61" width="21.75" height="19.41" fill="#e3e9ec"/><rect x="1648.55" y="277.61" width="21.75" height="19.41" fill="#d6c39b"/><rect x="1669.90" y="277.61" width="21.75" height="19.41" fill="#c4a770"/><rect x="1093.50" y="296.62" width="21.75" height="19.41" fill="#68a2c0"/><rect x="1114.85" y="296.62" width="21.75" height="19.41" fill="#0e528a"/><rect x="1136.20" y="296.62" width="21.75" height="19.41" fill="#146096"/><rect x="1157.54" y="296.62" width="21.75" height="19.41" fill="#82b2ca"/><rect x="1178.89" y="296.62" width="21.75" height="19.41" fill="#82b2ca"/><rect x="1200.24" y="296.62" width="21.75" height="19.41" fill="#d0e0e8"/><rect x="1221.59" y="296.62" width="21.75" height="19.41" fill="#b9d5e1"/><rect x="1242.94" y="296.62" width="21.75" height="19.41" fill="#9dc2d5"/><rect x="1264.28" y="296.62" width="21.75" height="19.41" fill="#b9d5e1"/><rect x="1285.63" y="296.62" width="21.75" height="19.41" fill="#3a82ab"/><rect x="1306.98" y="296.62" width="21.75" height="19.41" fill="#3a82ab"/><rect x="1328.33" y="296.62" width="21.75" height="19.41" fill="#3a82ab"/><rect x="1349.68" y="296.62" width="21.75" height="19.41" fill="#9dc2d5"/><rect x="1371.02" y="296.62" width="21.75" height="19.41" fill="#7a4302"/><rect x="1392.37" y="296.62" width="21.75" height="19.41" fill="#d6c39b"/><rect x="1413.72" y="296.62" width="21.75" height="19.41" fill="#dfd1b1"/><rect x="1435.07" y="296.62" width="21.75" height="19.41" fill="#eeebe0"/><rect x="1456.42" y="296.62" width="21.75" height="19.41" fill="#82b2ca"/><rect x="1477.76" y="296.62" width="21.75" height="19.41" fill="#e9dfcc"/><rect x="1499.11" y="296.62" width="21.75" height="19.41" fill="#e9dfcc"/><rect x="1520.46" y="296.62" width="21.75" height="19.41" fill="#cdb585"/><rect x="1541.81" y="296.62" width="21.75" height="19.41" fill="#dfd1b1"/><rect x="1563.16" y="296.62" width="21.75" height="19.41" fill="#d0e0e8"/><rect x="1584.50" y="296.62" width="21.75" height="19.41" fill="#c4a770"/><rect x="1605.85" y="296.62" width="21.75" height="19.41" fill="#dfd1b1"/><rect x="1627.20" y="296.62" width="21.75" height="19.41" fill="#d6c39b"/><rect x="1648.55" y="296.62" width="21.75" height="19.41" fill="#c4a770"/><rect x="1669.90" y="296.62" width="21.75" height="19.41" fill="#dfd1b1"/><rect x="1093.50" y="315.62" width="21.75" height="19.41" fill="#22709b"/><rect x="1114.85" y="315.62" width="21.75" height="19.41" fill="#0a457d"/><rect x="1136.20" y="315.62" width="21.75" height="19.41" fill="#3a82ab"/><rect x="1157.54" y="315.62" width="21.75" height="19.41" fill="#9dc2d5"/><rect x="1178.89" y="315.62" width="21.75" height="19.41" fill="#68a2c0"/><rect x="1200.24" y="315.62" width="21.75" height="19.41" fill="#d0e0e8"/><rect x="1221.59" y="315.62" width="21.75" height="19.41" fill="#82b2ca"/><rect x="1242.94" y="315.62" width="21.75" height="19.41" fill="#9dc2d5"/><rect x="1264.28" y="315.62" width="21.75" height="19.41" fill="#82b2ca"/><rect x="1285.63" y="315.62" width="21.75" height="19.41" fill="#22709b"/><rect x="1306.98" y="315.62" width="21.75" height="19.41" fill="#e3e9ec"/><rect x="1328.33" y="315.62" width="21.75" height="19.41" fill="#9dc2d5"/><rect x="1349.68" y="315.62" width="21.75" height="19.41" fill="#68a2c0"/><rect x="1371.02" y="315.62" width="21.75" height="19.41" fill="#9a6c1e"/><rect x="1392.37" y="315.62" width="21.75" height="19.41" fill="#e3e9ec"/><rect x="1413.72" y="315.62" width="21.75" height="19.41" fill="#b8985c"/><rect x="1435.07" y="315.62" width="21.75" height="19.41" fill="#eeebe0"/><rect x="1456.42" y="315.62" width="21.75" height="19.41" fill="#e3e9ec"/><rect x="1477.76" y="315.62" width="21.75" height="19.41" fill="#d6c39b"/><rect x="1499.11" y="315.62" width="21.75" height="19.41" fill="#eeebe0"/><rect x="1520.46" y="315.62" width="21.75" height="19.41" fill="#d6c39b"/><rect x="1541.81" y="315.62" width="21.75" height="19.41" fill="#a47e33"/><rect x="1563.16" y="315.62" width="21.75" height="19.41" fill="#9dc2d5"/><rect x="1584.50" y="315.62" width="21.75" height="19.41" fill="#eeebe0"/><rect x="1605.85" y="315.62" width="21.75" height="19.41" fill="#e9dfcc"/><rect x="1627.20" y="315.62" width="21.75" height="19.41" fill="#d6c39b"/><rect x="1648.55" y="315.62" width="21.75" height="19.41" fill="#d6c39b"/><rect x="1669.90" y="315.62" width="21.75" height="19.41" fill="#cdb585"/><rect x="1093.50" y="334.63" width="21.75" height="19.41" fill="#3a82ab"/><rect x="1114.85" y="334.63" width="21.75" height="19.41" fill="#0e528a"/><rect x="1136.20" y="334.63" width="21.75" height="19.41" fill="#e3e9ec"/><rect x="1157.54" y="334.63" width="21.75" height="19.41" fill="#82b2ca"/><rect x="1178.89" y="334.63" width="21.75" height="19.41" fill="#9dc2d5"/><rect x="1200.24" y="334.63" width="21.75" height="19.41" fill="#eeebe0"/><rect x="1221.59" y="334.63" width="21.75" height="19.41" fill="#9dc2d5"/><rect x="1242.94" y="334.63" width="21.75" height="19.41" fill="#22709b"/><rect x="1264.28" y="334.63" width="21.75" height="19.41" fill="#68a2c0"/><rect x="1285.63" y="334.63" width="21.75" height="19.41" fill="#22709b"/><rect x="1306.98" y="334.63" width="21.75" height="19.41" fill="#22709b"/><rect x="1328.33" y="334.63" width="21.75" height="19.41" fill="#9dc2d5"/><rect x="1349.68" y="334.63" width="21.75" height="19.41" fill="#68a2c0"/><rect x="1371.02" y="334.63" width="21.75" height="19.41" fill="#ad8b4a"/><rect x="1392.37" y="334.63" width="21.75" height="19.41" fill="#eeebe0"/><rect x="1413.72" y="334.63" width="21.75" height="19.41" fill="#cdb585"/><rect x="1435.07" y="334.63" width="21.75" height="19.41" fill="#cdb585"/><rect x="1456.42" y="334.63" width="21.75" height="19.41" fill="#e9dfcc"/><rect x="1477.76" y="334.63" width="21.75" height="19.41" fill="#c4a770"/><rect x="1499.11" y="334.63" width="21.75" height="19.41" fill="#eeebe0"/><rect x="1520.46" y="334.63" width="21.75" height="19.41" fill="#dfd1b1"/><rect x="1541.81" y="334.63" width="21.75" height="19.41" fill="#c4a770"/><rect x="1563.16" y="334.63" width="21.75" height="19.41" fill="#e3e9ec"/><rect x="1584.50" y="334.63" width="21.75" height="19.41" fill="#c4a770"/><rect x="1605.85" y="334.63" width="21.75" height="19.41" fill="#68a2c0"/><rect x="1627.20" y="334.63" width="21.75" height="19.41" fill="#c4a770"/><rect x="1648.55" y="334.63" width="21.75" height="19.41" fill="#c4a770"/><rect x="1669.90" y="334.63" width="21.75" height="19.41" fill="#eeebe0"/><rect x="1093.50" y="353.64" width="21.75" height="19.41" fill="#82b2ca"/><rect x="1114.85" y="353.64" width="21.75" height="19.41" fill="#0a457d"/><rect x="1136.20" y="353.64" width="21.75" height="19.41" fill="#22709b"/><rect x="1157.54" y="353.64" width="21.75" height="19.41" fill="#68a2c0"/><rect x="1178.89" y="353.64" width="21.75" height="19.41" fill="#82b2ca"/><rect x="1200.24" y="353.64" width="21.75" height="19.41" fill="#b9d5e1"/><rect x="1221.59" y="353.64" width="21.75" height="19.41" fill="#5092b5"/><rect x="1242.94" y="353.64" width="21.75" height="19.41" fill="#eeebe0"/><rect x="1264.28" y="353.64" width="21.75" height="19.41" fill="#146096"/><rect x="1285.63" y="353.64" width="21.75" height="19.41" fill="#22709b"/><rect x="1306.98" y="353.64" width="21.75" height="19.41" fill="#68a2c0"/><rect x="1328.33" y="353.64" width="21.75" height="19.41" fill="#e3e9ec"/><rect x="1349.68" y="353.64" width="21.75" height="19.41" fill="#b9d5e1"/><rect x="1371.02" y="353.64" width="21.75" height="19.41" fill="#c4a770"/><rect x="1392.37" y="353.64" width="21.75" height="19.41" fill="#d6c39b"/><rect x="1413.72" y="353.64" width="21.75" height="19.41" fill="#cdb585"/><rect x="1435.07" y="353.64" width="21.75" height="19.41" fill="#cdb585"/><rect x="1456.42" y="353.64" width="21.75" height="19.41" fill="#e3e9ec"/><rect x="1477.76" y="353.64" width="21.75" height="19.41" fill="#e3e9ec"/><rect x="1499.11" y="353.64" width="21.75" height="19.41" fill="#e9dfcc"/><rect x="1520.46" y="353.64" width="21.75" height="19.41" fill="#b8985c"/><rect x="1541.81" y="353.64" width="21.75" height="19.41" fill="#cdb585"/><rect x="1563.16" y="353.64" width="21.75" height="19.41" fill="#9dc2d5"/><rect x="1584.50" y="353.64" width="21.75" height="19.41" fill="#e3e9ec"/><rect x="1605.85" y="353.64" width="21.75" height="19.41" fill="#cdb585"/><rect x="1627.20" y="353.64" width="21.75" height="19.41" fill="#cdb585"/><rect x="1648.55" y="353.64" width="21.75" height="19.41" fill="#b8985c"/><rect x="1669.90" y="353.64" width="21.75" height="19.41" fill="#d6c39b"/><rect x="1093.50" y="372.64" width="21.75" height="19.41" fill="#68a2c0"/><rect x="1114.85" y="372.64" width="21.75" height="19.41" fill="#0b2c6c"/><rect x="1136.20" y="372.64" width="21.75" height="19.41" fill="#0e528a"/><rect x="1157.54" y="372.64" width="21.75" height="19.41" fill="#68a2c0"/><rect x="1178.89" y="372.64" width="21.75" height="19.41" fill="#82b2ca"/><rect x="1200.24" y="372.64" width="21.75" height="19.41" fill="#e3e9ec"/><rect x="1221.59" y="372.64" width="21.75" height="19.41" fill="#9dc2d5"/><rect x="1242.94" y="372.64" width="21.75" height="19.41" fill="#68a2c0"/><rect x="1264.28" y="372.64" width="21.75" height="19.41" fill="#d0e0e8"/><rect x="1285.63" y="372.64" width="21.75" height="19.41" fill="#22709b"/><rect x="1306.98" y="372.64" width="21.75" height="19.41" fill="#82b2ca"/><rect x="1328.33" y="372.64" width="21.75" height="19.41" fill="#9dc2d5"/><rect x="1349.68" y="372.64" width="21.75" height="19.41" fill="#9dc2d5"/><rect x="1371.02" y="372.64" width="21.75" height="19.41" fill="#8c5a0c"/><rect x="1392.37" y="372.64" width="21.75" height="19.41" fill="#cdb585"/><rect x="1413.72" y="372.64" width="21.75" height="19.41" fill="#c4a770"/><rect x="1435.07" y="372.64" width="21.75" height="19.41" fill="#e9dfcc"/><rect x="1456.42" y="372.64" width="21.75" height="19.41" fill="#e3e9ec"/><rect x="1477.76" y="372.64" width="21.75" height="19.41" fill="#e9dfcc"/><rect x="1499.11" y="372.64" width="21.75" height="19.41" fill="#e9dfcc"/><rect x="1520.46" y="372.64" width="21.75" height="19.41" fill="#cdb585"/><rect x="1541.81" y="372.64" width="21.75" height="19.41" fill="#cdb585"/><rect x="1563.16" y="372.64" width="21.75" height="19.41" fill="#e3e9ec"/><rect x="1584.50" y="372.64" width="21.75" height="19.41" fill="#d6c39b"/><rect x="1605.85" y="372.64" width="21.75" height="19.41" fill="#dfd1b1"/><rect x="1627.20" y="372.64" width="21.75" height="19.41" fill="#dfd1b1"/><rect x="1648.55" y="372.64" width="21.75" height="19.41" fill="#dfd1b1"/><rect x="1669.90" y="372.64" width="21.75" height="19.41" fill="#dfd1b1"/><rect x="1093.50" y="391.65" width="21.75" height="19.41" fill="#5092b5"/><rect x="1114.85" y="391.65" width="21.75" height="19.41" fill="#0b3570"/><rect x="1136.20" y="391.65" width="21.75" height="19.41" fill="#22709b"/><rect x="1157.54" y="391.65" width="21.75" height="19.41" fill="#5092b5"/><rect x="1178.89" y="391.65" width="21.75" height="19.41" fill="#5092b5"/><rect x="1200.24" y="391.65" width="21.75" height="19.41" fill="#eeebe0"/><rect x="1221.59" y="391.65" width="21.75" height="19.41" fill="#e3e9ec"/><rect x="1242.94" y="391.65" width="21.75" height="19.41" fill="#d0e0e8"/><rect x="1264.28" y="391.65" width="21.75" height="19.41" fill="#68a2c0"/><rect x="1285.63" y="391.65" width="21.75" height="19.41" fill="#3a82ab"/><rect x="1306.98" y="391.65" width="21.75" height="19.41" fill="#68a2c0"/><rect x="1328.33" y="391.65" width="21.75" height="19.41" fill="#9dc2d5"/><rect x="1349.68" y="391.65" width="21.75" height="19.41" fill="#5092b5"/><rect x="1371.02" y="391.65" width="21.75" height="19.41" fill="#c4a770"/><rect x="1392.37" y="391.65" width="21.75" height="19.41" fill="#d6c39b"/><rect x="1413.72" y="391.65" width="21.75" height="19.41" fill="#c4a770"/><rect x="1435.07" y="391.65" width="21.75" height="19.41" fill="#b8985c"/><rect x="1456.42" y="391.65" width="21.75" height="19.41" fill="#9dc2d5"/><rect x="1477.76" y="391.65" width="21.75" height="19.41" fill="#eeebe0"/><rect x="1499.11" y="391.65" width="21.75" height="19.41" fill="#d6c39b"/><rect x="1520.46" y="391.65" width="21.75" height="19.41" fill="#d6c39b"/><rect x="1541.81" y="391.65" width="21.75" height="19.41" fill="#b8985c"/><rect x="1563.16" y="391.65" width="21.75" height="19.41" fill="#cdb585"/><rect x="1584.50" y="391.65" width="21.75" height="19.41" fill="#d6c39b"/><rect x="1605.85" y="391.65" width="21.75" height="19.41" fill="#dfd1b1"/><rect x="1627.20" y="391.65" width="21.75" height="19.41" fill="#e3e9ec"/><rect x="1648.55" y="391.65" width="21.75" height="19.41" fill="#e3e9ec"/><rect x="1669.90" y="391.65" width="21.75" height="19.41" fill="#dfd1b1"/><rect x="1093.50" y="410.65" width="21.75" height="19.41" fill="#9dc2d5"/><rect x="1114.85" y="410.65" width="21.75" height="19.41" fill="#0b2c6c"/><rect x="1136.20" y="410.65" width="21.75" height="19.41" fill="#146096"/><rect x="1157.54" y="410.65" width="21.75" height="19.41" fill="#68a2c0"/><rect x="1178.89" y="410.65" width="21.75" height="19.41" fill="#b9d5e1"/><rect x="1200.24" y="410.65" width="21.75" height="19.41" fill="#b9d5e1"/><rect x="1221.59" y="410.65" width="21.75" height="19.41" fill="#82b2ca"/><rect x="1242.94" y="410.65" width="21.75" height="19.41" fill="#d0e0e8"/><rect x="1264.28" y="410.65" width="21.75" height="19.41" fill="#5092b5"/><rect x="1285.63" y="410.65" width="21.75" height="19.41" fill="#5092b5"/><rect x="1306.98" y="410.65" width="21.75" height="19.41" fill="#68a2c0"/><rect x="1328.33" y="410.65" width="21.75" height="19.41" fill="#82b2ca"/><rect x="1349.68" y="410.65" width="21.75" height="19.41" fill="#68a2c0"/><rect x="1371.02" y="410.65" width="21.75" height="19.41" fill="#ad8b4a"/><rect x="1392.37" y="410.65" width="21.75" height="19.41" fill="#e9dfcc"/><rect x="1413.72" y="410.65" width="21.75" height="19.41" fill="#c4a770"/><rect x="1435.07" y="410.65" width="21.75" height="19.41" fill="#d6c39b"/><rect x="1456.42" y="410.65" width="21.75" height="19.41" fill="#d0e0e8"/><rect x="1477.76" y="410.65" width="21.75" height="19.41" fill="#eeebe0"/><rect x="1499.11" y="410.65" width="21.75" height="19.41" fill="#dfd1b1"/><rect x="1520.46" y="410.65" width="21.75" height="19.41" fill="#cdb585"/><rect x="1541.81" y="410.65" width="21.75" height="19.41" fill="#cdb585"/><rect x="1563.16" y="410.65" width="21.75" height="19.41" fill="#b9d5e1"/><rect x="1584.50" y="410.65" width="21.75" height="19.41" fill="#e9dfcc"/><rect x="1605.85" y="410.65" width="21.75" height="19.41" fill="#e9dfcc"/><rect x="1627.20" y="410.65" width="21.75" height="19.41" fill="#ad8b4a"/><rect x="1648.55" y="410.65" width="21.75" height="19.41" fill="#c4a770"/><rect x="1669.90" y="410.65" width="21.75" height="19.41" fill="#dfd1b1"/><rect x="1093.50" y="429.66" width="21.75" height="19.41" fill="#5092b5"/><rect x="1114.85" y="429.66" width="21.75" height="19.41" fill="#0b2c6c"/><rect x="1136.20" y="429.66" width="21.75" height="19.41" fill="#146096"/><rect x="1157.54" y="429.66" width="21.75" height="19.41" fill="#5092b5"/><rect x="1178.89" y="429.66" width="21.75" height="19.41" fill="#82b2ca"/><rect x="1200.24" y="429.66" width="21.75" height="19.41" fill="#eeebe0"/><rect x="1221.59" y="429.66" width="21.75" height="19.41" fill="#e3e9ec"/><rect x="1242.94" y="429.66" width="21.75" height="19.41" fill="#e3e9ec"/><rect x="1264.28" y="429.66" width="21.75" height="19.41" fill="#9dc2d5"/><rect x="1285.63" y="429.66" width="21.75" height="19.41" fill="#3a82ab"/><rect x="1306.98" y="429.66" width="21.75" height="19.41" fill="#5092b5"/><rect x="1328.33" y="429.66" width="21.75" height="19.41" fill="#82b2ca"/><rect x="1349.68" y="429.66" width="21.75" height="19.41" fill="#68a2c0"/><rect x="1371.02" y="429.66" width="21.75" height="19.41" fill="#b8985c"/><rect x="1392.37" y="429.66" width="21.75" height="19.41" fill="#cdb585"/><rect x="1413.72" y="429.66" width="21.75" height="19.41" fill="#c4a770"/><rect x="1435.07" y="429.66" width="21.75" height="19.41" fill="#b8985c"/><rect x="1456.42" y="429.66" width="21.75" height="19.41" fill="#9dc2d5"/><rect x="1477.76" y="429.66" width="21.75" height="19.41" fill="#b9d5e1"/><rect x="1499.11" y="429.66" width="21.75" height="19.41" fill="#e3e9ec"/><rect x="1520.46" y="429.66" width="21.75" height="19.41" fill="#cdb585"/><rect x="1541.81" y="429.66" width="21.75" height="19.41" fill="#cdb585"/><rect x="1563.16" y="429.66" width="21.75" height="19.41" fill="#dfd1b1"/><rect x="1584.50" y="429.66" width="21.75" height="19.41" fill="#d6c39b"/><rect x="1605.85" y="429.66" width="21.75" height="19.41" fill="#cdb585"/><rect x="1627.20" y="429.66" width="21.75" height="19.41" fill="#e9dfcc"/><rect x="1648.55" y="429.66" width="21.75" height="19.41" fill="#e9dfcc"/><rect x="1669.90" y="429.66" width="21.75" height="19.41" fill="#dfd1b1"/><rect x="1093.50" y="448.67" width="21.75" height="19.41" fill="#5092b5"/><rect x="1114.85" y="448.67" width="21.75" height="19.41" fill="#021a60"/><rect x="1136.20" y="448.67" width="21.75" height="19.41" fill="#9dc2d5"/><rect x="1157.54" y="448.67" width="21.75" height="19.41" fill="#d0e0e8"/><rect x="1178.89" y="448.67" width="21.75" height="19.41" fill="#68a2c0"/><rect x="1200.24" y="448.67" width="21.75" height="19.41" fill="#e9dfcc"/><rect x="1221.59" y="448.67" width="21.75" height="19.41" fill="#68a2c0"/><rect x="1242.94" y="448.67" width="21.75" height="19.41" fill="#68a2c0"/><rect x="1264.28" y="448.67" width="21.75" height="19.41" fill="#82b2ca"/><rect x="1285.63" y="448.67" width="21.75" height="19.41" fill="#3a82ab"/><rect x="1306.98" y="448.67" width="21.75" height="19.41" fill="#5092b5"/><rect x="1328.33" y="448.67" width="21.75" height="19.41" fill="#9dc2d5"/><rect x="1349.68" y="448.67" width="21.75" height="19.41" fill="#b9d5e1"/><rect x="1371.02" y="448.67" width="21.75" height="19.41" fill="#9a6c1e"/><rect x="1392.37" y="448.67" width="21.75" height="19.41" fill="#dfd1b1"/><rect x="1413.72" y="448.67" width="21.75" height="19.41" fill="#b8985c"/><rect x="1435.07" y="448.67" width="21.75" height="19.41" fill="#e9dfcc"/><rect x="1456.42" y="448.67" width="21.75" height="19.41" fill="#e9dfcc"/><rect x="1477.76" y="448.67" width="21.75" height="19.41" fill="#b9d5e1"/><rect x="1499.11" y="448.67" width="21.75" height="19.41" fill="#dfd1b1"/><rect x="1520.46" y="448.67" width="21.75" height="19.41" fill="#cdb585"/><rect x="1541.81" y="448.67" width="21.75" height="19.41" fill="#cdb585"/><rect x="1563.16" y="448.67" width="21.75" height="19.41" fill="#d0e0e8"/><rect x="1584.50" y="448.67" width="21.75" height="19.41" fill="#cdb585"/><rect x="1605.85" y="448.67" width="21.75" height="19.41" fill="#eeebe0"/><rect x="1627.20" y="448.67" width="21.75" height="19.41" fill="#dfd1b1"/><rect x="1648.55" y="448.67" width="21.75" height="19.41" fill="#e3e9ec"/><rect x="1669.90" y="448.67" width="21.75" height="19.41" fill="#cdb585"/><rect x="1093.50" y="467.67" width="21.75" height="19.41" fill="#b9d5e1"/><rect x="1114.85" y="467.67" width="21.75" height="19.41" fill="#0b2c6c"/><rect x="1136.20" y="467.67" width="21.75" height="19.41" fill="#146096"/><rect x="1157.54" y="467.67" width="21.75" height="19.41" fill="#e3e9ec"/><rect x="1178.89" y="467.67" width="21.75" height="19.41" fill="#eeebe0"/><rect x="1200.24" y="467.67" width="21.75" height="19.41" fill="#68a2c0"/><rect x="1221.59" y="467.67" width="21.75" height="19.41" fill="#e3e9ec"/><rect x="1242.94" y="467.67" width="21.75" height="19.41" fill="#9dc2d5"/><rect x="1264.28" y="467.67" width="21.75" height="19.41" fill="#3a82ab"/><rect x="1285.63" y="467.67" width="21.75" height="19.41" fill="#82b2ca"/><rect x="1306.98" y="467.67" width="21.75" height="19.41" fill="#82b2ca"/><rect x="1328.33" y="467.67" width="21.75" height="19.41" fill="#5092b5"/><rect x="1349.68" y="467.67" width="21.75" height="19.41" fill="#146096"/><rect x="1371.02" y="467.67" width="21.75" height="19.41" fill="#dfd1b1"/><rect x="1392.37" y="467.67" width="21.75" height="19.41" fill="#e9dfcc"/><rect x="1413.72" y="467.67" width="21.75" height="19.41" fill="#b8985c"/><rect x="1435.07" y="467.67" width="21.75" height="19.41" fill="#c4a770"/><rect x="1456.42" y="467.67" width="21.75" height="19.41" fill="#e3e9ec"/><rect x="1477.76" y="467.67" width="21.75" height="19.41" fill="#68a2c0"/><rect x="1499.11" y="467.67" width="21.75" height="19.41" fill="#d6c39b"/><rect x="1520.46" y="467.67" width="21.75" height="19.41" fill="#eeebe0"/><rect x="1541.81" y="467.67" width="21.75" height="19.41" fill="#b8985c"/><rect x="1563.16" y="467.67" width="21.75" height="19.41" fill="#e9dfcc"/><rect x="1584.50" y="467.67" width="21.75" height="19.41" fill="#ad8b4a"/><rect x="1605.85" y="467.67" width="21.75" height="19.41" fill="#e9dfcc"/><rect x="1627.20" y="467.67" width="21.75" height="19.41" fill="#e9dfcc"/><rect x="1648.55" y="467.67" width="21.75" height="19.41" fill="#d6c39b"/><rect x="1669.90" y="467.67" width="21.75" height="19.41" fill="#d6c39b"/><rect x="1093.50" y="486.68" width="21.75" height="19.41" fill="#9dc2d5"/><rect x="1114.85" y="486.68" width="21.75" height="19.41" fill="#0b3570"/><rect x="1136.20" y="486.68" width="21.75" height="19.41" fill="#3a82ab"/><rect x="1157.54" y="486.68" width="21.75" height="19.41" fill="#9dc2d5"/><rect x="1178.89" y="486.68" width="21.75" height="19.41" fill="#82b2ca"/><rect x="1200.24" y="486.68" width="21.75" height="19.41" fill="#e3e9ec"/><rect x="1221.59" y="486.68" width="21.75" height="19.41" fill="#e3e9ec"/><rect x="1242.94" y="486.68" width="21.75" height="19.41" fill="#9dc2d5"/><rect x="1264.28" y="486.68" width="21.75" height="19.41" fill="#0b3570"/><rect x="1285.63" y="486.68" width="21.75" height="19.41" fill="#3a82ab"/><rect x="1306.98" y="486.68" width="21.75" height="19.41" fill="#82b2ca"/><rect x="1328.33" y="486.68" width="21.75" height="19.41" fill="#9dc2d5"/><rect x="1349.68" y="486.68" width="21.75" height="19.41" fill="#82b2ca"/><rect x="1371.02" y="486.68" width="21.75" height="19.41" fill="#c4a770"/><rect x="1392.37" y="486.68" width="21.75" height="19.41" fill="#c4a770"/><rect x="1413.72" y="486.68" width="21.75" height="19.41" fill="#dfd1b1"/><rect x="1435.07" y="486.68" width="21.75" height="19.41" fill="#a47e33"/><rect x="1456.42" y="486.68" width="21.75" height="19.41" fill="#9dc2d5"/><rect x="1477.76" y="486.68" width="21.75" height="19.41" fill="#d0e0e8"/><rect x="1499.11" y="486.68" width="21.75" height="19.41" fill="#e9dfcc"/><rect x="1520.46" y="486.68" width="21.75" height="19.41" fill="#dfd1b1"/><rect x="1541.81" y="486.68" width="21.75" height="19.41" fill="#b8985c"/><rect x="1563.16" y="486.68" width="21.75" height="19.41" fill="#9dc2d5"/><rect x="1584.50" y="486.68" width="21.75" height="19.41" fill="#e9dfcc"/><rect x="1605.85" y="486.68" width="21.75" height="19.41" fill="#c4a770"/><rect x="1627.20" y="486.68" width="21.75" height="19.41" fill="#cdb585"/><rect x="1648.55" y="486.68" width="21.75" height="19.41" fill="#cdb585"/><rect x="1669.90" y="486.68" width="21.75" height="19.41" fill="#e3e9ec"/><rect x="1093.50" y="505.68" width="21.75" height="19.41" fill="#e9dfcc"/><rect x="1114.85" y="505.68" width="21.75" height="19.41" fill="#0e528a"/><rect x="1136.20" y="505.68" width="21.75" height="19.41" fill="#9dc2d5"/><rect x="1157.54" y="505.68" width="21.75" height="19.41" fill="#9dc2d5"/><rect x="1178.89" y="505.68" width="21.75" height="19.41" fill="#b9d5e1"/><rect x="1200.24" y="505.68" width="21.75" height="19.41" fill="#146096"/><rect x="1221.59" y="505.68" width="21.75" height="19.41" fill="#68a2c0"/><rect x="1242.94" y="505.68" width="21.75" height="19.41" fill="#9dc2d5"/><rect x="1264.28" y="505.68" width="21.75" height="19.41" fill="#82b2ca"/><rect x="1285.63" y="505.68" width="21.75" height="19.41" fill="#5092b5"/><rect x="1306.98" y="505.68" width="21.75" height="19.41" fill="#146096"/><rect x="1328.33" y="505.68" width="21.75" height="19.41" fill="#68a2c0"/><rect x="1349.68" y="505.68" width="21.75" height="19.41" fill="#5092b5"/><rect x="1371.02" y="505.68" width="21.75" height="19.41" fill="#cdb585"/><rect x="1392.37" y="505.68" width="21.75" height="19.41" fill="#b8985c"/><rect x="1413.72" y="505.68" width="21.75" height="19.41" fill="#c4a770"/><rect x="1435.07" y="505.68" width="21.75" height="19.41" fill="#a47e33"/><rect x="1456.42" y="505.68" width="21.75" height="19.41" fill="#b9d5e1"/><rect x="1477.76" y="505.68" width="21.75" height="19.41" fill="#eeebe0"/><rect x="1499.11" y="505.68" width="21.75" height="19.41" fill="#e3e9ec"/><rect x="1520.46" y="505.68" width="21.75" height="19.41" fill="#d0e0e8"/><rect x="1541.81" y="505.68" width="21.75" height="19.41" fill="#e3e9ec"/><rect x="1563.16" y="505.68" width="21.75" height="19.41" fill="#e9dfcc"/><rect x="1584.50" y="505.68" width="21.75" height="19.41" fill="#e9dfcc"/><rect x="1605.85" y="505.68" width="21.75" height="19.41" fill="#d6c39b"/><rect x="1627.20" y="505.68" width="21.75" height="19.41" fill="#b8985c"/><rect x="1648.55" y="505.68" width="21.75" height="19.41" fill="#ad8b4a"/><rect x="1669.90" y="505.68" width="21.75" height="19.41" fill="#e9dfcc"/><rect x="1093.50" y="524.69" width="21.75" height="19.41" fill="#3a82ab"/><rect x="1114.85" y="524.69" width="21.75" height="19.41" fill="#0a457d"/><rect x="1136.20" y="524.69" width="21.75" height="19.41" fill="#5092b5"/><rect x="1157.54" y="524.69" width="21.75" height="19.41" fill="#e3e9ec"/><rect x="1178.89" y="524.69" width="21.75" height="19.41" fill="#68a2c0"/><rect x="1200.24" y="524.69" width="21.75" height="19.41" fill="#68a2c0"/><rect x="1221.59" y="524.69" width="21.75" height="19.41" fill="#e3e9ec"/><rect x="1242.94" y="524.69" width="21.75" height="19.41" fill="#5092b5"/><rect x="1264.28" y="524.69" width="21.75" height="19.41" fill="#82b2ca"/><rect x="1285.63" y="524.69" width="21.75" height="19.41" fill="#68a2c0"/><rect x="1306.98" y="524.69" width="21.75" height="19.41" fill="#b9d5e1"/><rect x="1328.33" y="524.69" width="21.75" height="19.41" fill="#3a82ab"/><rect x="1349.68" y="524.69" width="21.75" height="19.41" fill="#eeebe0"/><rect x="1371.02" y="524.69" width="21.75" height="19.41" fill="#844f00"/><rect x="1392.37" y="524.69" width="21.75" height="19.41" fill="#cdb585"/><rect x="1413.72" y="524.69" width="21.75" height="19.41" fill="#b8985c"/><rect x="1435.07" y="524.69" width="21.75" height="19.41" fill="#d6c39b"/><rect x="1456.42" y="524.69" width="21.75" height="19.41" fill="#82b2ca"/><rect x="1477.76" y="524.69" width="21.75" height="19.41" fill="#e9dfcc"/><rect x="1499.11" y="524.69" width="21.75" height="19.41" fill="#b9d5e1"/><rect x="1520.46" y="524.69" width="21.75" height="19.41" fill="#e9dfcc"/><rect x="1541.81" y="524.69" width="21.75" height="19.41" fill="#b8985c"/><rect x="1563.16" y="524.69" width="21.75" height="19.41" fill="#dfd1b1"/><rect x="1584.50" y="524.69" width="21.75" height="19.41" fill="#e3e9ec"/><rect x="1605.85" y="524.69" width="21.75" height="19.41" fill="#eeebe0"/><rect x="1627.20" y="524.69" width="21.75" height="19.41" fill="#cdb585"/><rect x="1648.55" y="524.69" width="21.75" height="19.41" fill="#9dc2d5"/><rect x="1669.90" y="524.69" width="21.75" height="19.41" fill="#d6c39b"/><rect x="1093.50" y="543.70" width="21.75" height="19.41" fill="#22709b"/><rect x="1114.85" y="543.70" width="21.75" height="19.41" fill="#9dc2d5"/><rect x="1136.20" y="543.70" width="21.75" height="19.41" fill="#d6c39b"/><rect x="1157.54" y="543.70" width="21.75" height="19.41" fill="#82b2ca"/><rect x="1178.89" y="543.70" width="21.75" height="19.41" fill="#82b2ca"/><rect x="1200.24" y="543.70" width="21.75" height="19.41" fill="#e3e9ec"/><rect x="1221.59" y="543.70" width="21.75" height="19.41" fill="#9dc2d5"/><rect x="1242.94" y="543.70" width="21.75" height="19.41" fill="#0e528a"/><rect x="1264.28" y="543.70" width="21.75" height="19.41" fill="#22709b"/><rect x="1285.63" y="543.70" width="21.75" height="19.41" fill="#d0e0e8"/><rect x="1306.98" y="543.70" width="21.75" height="19.41" fill="#3a82ab"/><rect x="1328.33" y="543.70" width="21.75" height="19.41" fill="#5092b5"/><rect x="1349.68" y="543.70" width="21.75" height="19.41" fill="#68a2c0"/><rect x="1371.02" y="543.70" width="21.75" height="19.41" fill="#e9dfcc"/><rect x="1392.37" y="543.70" width="21.75" height="19.41" fill="#a47e33"/><rect x="1413.72" y="543.70" width="21.75" height="19.41" fill="#d0e0e8"/><rect x="1435.07" y="543.70" width="21.75" height="19.41" fill="#c4a770"/><rect x="1456.42" y="543.70" width="21.75" height="19.41" fill="#e9dfcc"/><rect x="1477.76" y="543.70" width="21.75" height="19.41" fill="#b9d5e1"/><rect x="1499.11" y="543.70" width="21.75" height="19.41" fill="#e3e9ec"/><rect x="1520.46" y="543.70" width="21.75" height="19.41" fill="#ad8b4a"/><rect x="1541.81" y="543.70" width="21.75" height="19.41" fill="#e3e9ec"/><rect x="1563.16" y="543.70" width="21.75" height="19.41" fill="#d0e0e8"/><rect x="1584.50" y="543.70" width="21.75" height="19.41" fill="#a47e33"/><rect x="1605.85" y="543.70" width="21.75" height="19.41" fill="#e9dfcc"/><rect x="1627.20" y="543.70" width="21.75" height="19.41" fill="#c4a770"/><rect x="1648.55" y="543.70" width="21.75" height="19.41" fill="#eeebe0"/><rect x="1669.90" y="543.70" width="21.75" height="19.41" fill="#e9dfcc"/><rect x="1093.50" y="562.70" width="21.75" height="19.41" fill="#9dc2d5"/><rect x="1114.85" y="562.70" width="21.75" height="19.41" fill="#b9d5e1"/><rect x="1136.20" y="562.70" width="21.75" height="19.41" fill="#b8985c"/><rect x="1157.54" y="562.70" width="21.75" height="19.41" fill="#d6c39b"/><rect x="1178.89" y="562.70" width="21.75" height="19.41" fill="#5092b5"/><rect x="1200.24" y="562.70" width="21.75" height="19.41" fill="#e9dfcc"/><rect x="1221.59" y="562.70" width="21.75" height="19.41" fill="#3a82ab"/><rect x="1242.94" y="562.70" width="21.75" height="19.41" fill="#b9d5e1"/><rect x="1264.28" y="562.70" width="21.75" height="19.41" fill="#b9d5e1"/><rect x="1285.63" y="562.70" width="21.75" height="19.41" fill="#d0e0e8"/><rect x="1306.98" y="562.70" width="21.75" height="19.41" fill="#5092b5"/><rect x="1328.33" y="562.70" width="21.75" height="19.41" fill="#22709b"/><rect x="1349.68" y="562.70" width="21.75" height="19.41" fill="#22709b"/><rect x="1371.02" y="562.70" width="21.75" height="19.41" fill="#eeebe0"/><rect x="1392.37" y="562.70" width="21.75" height="19.41" fill="#b8985c"/><rect x="1413.72" y="562.70" width="21.75" height="19.41" fill="#82b2ca"/><rect x="1435.07" y="562.70" width="21.75" height="19.41" fill="#3a82ab"/><rect x="1456.42" y="562.70" width="21.75" height="19.41" fill="#7a4302"/><rect x="1477.76" y="562.70" width="21.75" height="19.41" fill="#b9d5e1"/><rect x="1499.11" y="562.70" width="21.75" height="19.41" fill="#d0e0e8"/><rect x="1520.46" y="562.70" width="21.75" height="19.41" fill="#c4a770"/><rect x="1541.81" y="562.70" width="21.75" height="19.41" fill="#c4a770"/><rect x="1563.16" y="562.70" width="21.75" height="19.41" fill="#e3e9ec"/><rect x="1584.50" y="562.70" width="21.75" height="19.41" fill="#d6c39b"/><rect x="1605.85" y="562.70" width="21.75" height="19.41" fill="#d0e0e8"/><rect x="1627.20" y="562.70" width="21.75" height="19.41" fill="#e3e9ec"/><rect x="1648.55" y="562.70" width="21.75" height="19.41" fill="#82b2ca"/><rect x="1669.90" y="562.70" width="21.75" height="19.41" fill="#eeebe0"/><rect x="1093.50" y="581.71" width="21.75" height="19.41" fill="#3a82ab"/><rect x="1114.85" y="581.71" width="21.75" height="19.41" fill="#0b2c6c"/><rect x="1136.20" y="581.71" width="21.75" height="19.41" fill="#22709b"/><rect x="1157.54" y="581.71" width="21.75" height="19.41" fill="#82b2ca"/><rect x="1178.89" y="581.71" width="21.75" height="19.41" fill="#9dc2d5"/><rect x="1200.24" y="581.71" width="21.75" height="19.41" fill="#b9d5e1"/><rect x="1221.59" y="581.71" width="21.75" height="19.41" fill="#9dc2d5"/><rect x="1242.94" y="581.71" width="21.75" height="19.41" fill="#e3e9ec"/><rect x="1264.28" y="581.71" width="21.75" height="19.41" fill="#68a2c0"/><rect x="1285.63" y="581.71" width="21.75" height="19.41" fill="#5092b5"/><rect x="1306.98" y="581.71" width="21.75" height="19.41" fill="#d0e0e8"/><rect x="1328.33" y="581.71" width="21.75" height="19.41" fill="#9dc2d5"/><rect x="1349.68" y="581.71" width="21.75" height="19.41" fill="#68a2c0"/><rect x="1371.02" y="581.71" width="21.75" height="19.41" fill="#dfd1b1"/><rect x="1392.37" y="581.71" width="21.75" height="19.41" fill="#e9dfcc"/><rect x="1413.72" y="581.71" width="21.75" height="19.41" fill="#cdb585"/><rect x="1435.07" y="581.71" width="21.75" height="19.41" fill="#b8985c"/><rect x="1456.42" y="581.71" width="21.75" height="19.41" fill="#dfd1b1"/><rect x="1477.76" y="581.71" width="21.75" height="19.41" fill="#d0e0e8"/><rect x="1499.11" y="581.71" width="21.75" height="19.41" fill="#dfd1b1"/><rect x="1520.46" y="581.71" width="21.75" height="19.41" fill="#c4a770"/><rect x="1541.81" y="581.71" width="21.75" height="19.41" fill="#a47e33"/><rect x="1563.16" y="581.71" width="21.75" height="19.41" fill="#9dc2d5"/><rect x="1584.50" y="581.71" width="21.75" height="19.41" fill="#b9d5e1"/><rect x="1605.85" y="581.71" width="21.75" height="19.41" fill="#e9dfcc"/><rect x="1627.20" y="581.71" width="21.75" height="19.41" fill="#9a6c1e"/><rect x="1648.55" y="581.71" width="21.75" height="19.41" fill="#dfd1b1"/><rect x="1669.90" y="581.71" width="21.75" height="19.41" fill="#eeebe0"/><rect x="1093.50" y="600.71" width="21.75" height="19.41" fill="#146096"/><rect x="1114.85" y="600.71" width="21.75" height="19.41" fill="#0e528a"/><rect x="1136.20" y="600.71" width="21.75" height="19.41" fill="#9dc2d5"/><rect x="1157.54" y="600.71" width="21.75" height="19.41" fill="#b9d5e1"/><rect x="1178.89" y="600.71" width="21.75" height="19.41" fill="#9dc2d5"/><rect x="1200.24" y="600.71" width="21.75" height="19.41" fill="#d0e0e8"/><rect x="1221.59" y="600.71" width="21.75" height="19.41" fill="#3a82ab"/><rect x="1242.94" y="600.71" width="21.75" height="19.41" fill="#d0e0e8"/><rect x="1264.28" y="600.71" width="21.75" height="19.41" fill="#b9d5e1"/><rect x="1285.63" y="600.71" width="21.75" height="19.41" fill="#0e528a"/><rect x="1306.98" y="600.71" width="21.75" height="19.41" fill="#9dc2d5"/><rect x="1328.33" y="600.71" width="21.75" height="19.41" fill="#68a2c0"/><rect x="1349.68" y="600.71" width="21.75" height="19.41" fill="#d0e0e8"/><rect x="1371.02" y="600.71" width="21.75" height="19.41" fill="#9a6c1e"/><rect x="1392.37" y="600.71" width="21.75" height="19.41" fill="#dfd1b1"/><rect x="1413.72" y="600.71" width="21.75" height="19.41" fill="#cdb585"/><rect x="1435.07" y="600.71" width="21.75" height="19.41" fill="#cdb585"/><rect x="1456.42" y="600.71" width="21.75" height="19.41" fill="#dfd1b1"/><rect x="1477.76" y="600.71" width="21.75" height="19.41" fill="#d0e0e8"/><rect x="1499.11" y="600.71" width="21.75" height="19.41" fill="#d6c39b"/><rect x="1520.46" y="600.71" width="21.75" height="19.41" fill="#c4a770"/><rect x="1541.81" y="600.71" width="21.75" height="19.41" fill="#a47e33"/><rect x="1563.16" y="600.71" width="21.75" height="19.41" fill="#82b2ca"/><rect x="1584.50" y="600.71" width="21.75" height="19.41" fill="#b9d5e1"/><rect x="1605.85" y="600.71" width="21.75" height="19.41" fill="#e3e9ec"/><rect x="1627.20" y="600.71" width="21.75" height="19.41" fill="#cdb585"/><rect x="1648.55" y="600.71" width="21.75" height="19.41" fill="#eeebe0"/><rect x="1669.90" y="600.71" width="21.75" height="19.41" fill="#e9dfcc"/><rect x="1093.50" y="619.72" width="21.75" height="19.41" fill="#0a457d"/><rect x="1114.85" y="619.72" width="21.75" height="19.41" fill="#0e528a"/><rect x="1136.20" y="619.72" width="21.75" height="19.41" fill="#82b2ca"/><rect x="1157.54" y="619.72" width="21.75" height="19.41" fill="#d0e0e8"/><rect x="1178.89" y="619.72" width="21.75" height="19.41" fill="#b9d5e1"/><rect x="1200.24" y="619.72" width="21.75" height="19.41" fill="#82b2ca"/><rect x="1221.59" y="619.72" width="21.75" height="19.41" fill="#9dc2d5"/><rect x="1242.94" y="619.72" width="21.75" height="19.41" fill="#5092b5"/><rect x="1264.28" y="619.72" width="21.75" height="19.41" fill="#68a2c0"/><rect x="1285.63" y="619.72" width="21.75" height="19.41" fill="#5092b5"/><rect x="1306.98" y="619.72" width="21.75" height="19.41" fill="#146096"/><rect x="1328.33" y="619.72" width="21.75" height="19.41" fill="#d0e0e8"/><rect x="1349.68" y="619.72" width="21.75" height="19.41" fill="#e3e9ec"/><rect x="1371.02" y="619.72" width="21.75" height="19.41" fill="#a47e33"/><rect x="1392.37" y="619.72" width="21.75" height="19.41" fill="#e9dfcc"/><rect x="1413.72" y="619.72" width="21.75" height="19.41" fill="#dfd1b1"/><rect x="1435.07" y="619.72" width="21.75" height="19.41" fill="#ad8b4a"/><rect x="1456.42" y="619.72" width="21.75" height="19.41" fill="#eeebe0"/><rect x="1477.76" y="619.72" width="21.75" height="19.41" fill="#e9dfcc"/><rect x="1499.11" y="619.72" width="21.75" height="19.41" fill="#b8985c"/><rect x="1520.46" y="619.72" width="21.75" height="19.41" fill="#c4a770"/><rect x="1541.81" y="619.72" width="21.75" height="19.41" fill="#dfd1b1"/><rect x="1563.16" y="619.72" width="21.75" height="19.41" fill="#e9dfcc"/><rect x="1584.50" y="619.72" width="21.75" height="19.41" fill="#eeebe0"/><rect x="1605.85" y="619.72" width="21.75" height="19.41" fill="#b9d5e1"/><rect x="1627.20" y="619.72" width="21.75" height="19.41" fill="#d6c39b"/><rect x="1648.55" y="619.72" width="21.75" height="19.41" fill="#d6c39b"/><rect x="1669.90" y="619.72" width="21.75" height="19.41" fill="#e3e9ec"/><rect x="1093.50" y="638.73" width="21.75" height="19.41" fill="#9dc2d5"/><rect x="1114.85" y="638.73" width="21.75" height="19.41" fill="#0a457d"/><rect x="1136.20" y="638.73" width="21.75" height="19.41" fill="#68a2c0"/><rect x="1157.54" y="638.73" width="21.75" height="19.41" fill="#82b2ca"/><rect x="1178.89" y="638.73" width="21.75" height="19.41" fill="#e3e9ec"/><rect x="1200.24" y="638.73" width="21.75" height="19.41" fill="#eeebe0"/><rect x="1221.59" y="638.73" width="21.75" height="19.41" fill="#68a2c0"/><rect x="1242.94" y="638.73" width="21.75" height="19.41" fill="#22709b"/><rect x="1264.28" y="638.73" width="21.75" height="19.41" fill="#68a2c0"/><rect x="1285.63" y="638.73" width="21.75" height="19.41" fill="#0a457d"/><rect x="1306.98" y="638.73" width="21.75" height="19.41" fill="#22709b"/><rect x="1328.33" y="638.73" width="21.75" height="19.41" fill="#d0e0e8"/><rect x="1349.68" y="638.73" width="21.75" height="19.41" fill="#82b2ca"/><rect x="1371.02" y="638.73" width="21.75" height="19.41" fill="#c4a770"/><rect x="1392.37" y="638.73" width="21.75" height="19.41" fill="#e9dfcc"/><rect x="1413.72" y="638.73" width="21.75" height="19.41" fill="#ad8b4a"/><rect x="1435.07" y="638.73" width="21.75" height="19.41" fill="#b8985c"/><rect x="1456.42" y="638.73" width="21.75" height="19.41" fill="#b9d5e1"/><rect x="1477.76" y="638.73" width="21.75" height="19.41" fill="#dfd1b1"/><rect x="1499.11" y="638.73" width="21.75" height="19.41" fill="#dfd1b1"/><rect x="1520.46" y="638.73" width="21.75" height="19.41" fill="#d6c39b"/><rect x="1541.81" y="638.73" width="21.75" height="19.41" fill="#c4a770"/><rect x="1563.16" y="638.73" width="21.75" height="19.41" fill="#e9dfcc"/><rect x="1584.50" y="638.73" width="21.75" height="19.41" fill="#e9dfcc"/><rect x="1605.85" y="638.73" width="21.75" height="19.41" fill="#d0e0e8"/><rect x="1627.20" y="638.73" width="21.75" height="19.41" fill="#ad8b4a"/><rect x="1648.55" y="638.73" width="21.75" height="19.41" fill="#e9dfcc"/><rect x="1669.90" y="638.73" width="21.75" height="19.41" fill="#eeebe0"/><rect x="1093.50" y="657.73" width="21.75" height="19.41" fill="#146096"/><rect x="1114.85" y="657.73" width="21.75" height="19.41" fill="#0e528a"/><rect x="1136.20" y="657.73" width="21.75" height="19.41" fill="#0b2c6c"/><rect x="1157.54" y="657.73" width="21.75" height="19.41" fill="#82b2ca"/><rect x="1178.89" y="657.73" width="21.75" height="19.41" fill="#9dc2d5"/><rect x="1200.24" y="657.73" width="21.75" height="19.41" fill="#dfd1b1"/><rect x="1221.59" y="657.73" width="21.75" height="19.41" fill="#d0e0e8"/><rect x="1242.94" y="657.73" width="21.75" height="19.41" fill="#b9d5e1"/><rect x="1264.28" y="657.73" width="21.75" height="19.41" fill="#b9d5e1"/><rect x="1285.63" y="657.73" width="21.75" height="19.41" fill="#82b2ca"/><rect x="1306.98" y="657.73" width="21.75" height="19.41" fill="#22709b"/><rect x="1328.33" y="657.73" width="21.75" height="19.41" fill="#b9d5e1"/><rect x="1349.68" y="657.73" width="21.75" height="19.41" fill="#5092b5"/><rect x="1371.02" y="657.73" width="21.75" height="19.41" fill="#c4a770"/><rect x="1392.37" y="657.73" width="21.75" height="19.41" fill="#cdb585"/><rect x="1413.72" y="657.73" width="21.75" height="19.41" fill="#c4a770"/><rect x="1435.07" y="657.73" width="21.75" height="19.41" fill="#b8985c"/><rect x="1456.42" y="657.73" width="21.75" height="19.41" fill="#d0e0e8"/><rect x="1477.76" y="657.73" width="21.75" height="19.41" fill="#e3e9ec"/><rect x="1499.11" y="657.73" width="21.75" height="19.41" fill="#d6c39b"/><rect x="1520.46" y="657.73" width="21.75" height="19.41" fill="#e9dfcc"/><rect x="1541.81" y="657.73" width="21.75" height="19.41" fill="#e9dfcc"/><rect x="1563.16" y="657.73" width="21.75" height="19.41" fill="#dfd1b1"/><rect x="1584.50" y="657.73" width="21.75" height="19.41" fill="#dfd1b1"/><rect x="1605.85" y="657.73" width="21.75" height="19.41" fill="#e9dfcc"/><rect x="1627.20" y="657.73" width="21.75" height="19.41" fill="#dfd1b1"/><rect x="1648.55" y="657.73" width="21.75" height="19.41" fill="#c4a770"/><rect x="1669.90" y="657.73" width="21.75" height="19.41" fill="#eeebe0"/><rect x="1093.50" y="676.74" width="21.75" height="19.41" fill="#d0e0e8"/><rect x="1114.85" y="676.74" width="21.75" height="19.41" fill="#0b3570"/><rect x="1136.20" y="676.74" width="21.75" height="19.41" fill="#9dc2d5"/><rect x="1157.54" y="676.74" width="21.75" height="19.41" fill="#5092b5"/><rect x="1178.89" y="676.74" width="21.75" height="19.41" fill="#9dc2d5"/><rect x="1200.24" y="676.74" width="21.75" height="19.41" fill="#b9d5e1"/><rect x="1221.59" y="676.74" width="21.75" height="19.41" fill="#b9d5e1"/><rect x="1242.94" y="676.74" width="21.75" height="19.41" fill="#b9d5e1"/><rect x="1264.28" y="676.74" width="21.75" height="19.41" fill="#0e528a"/><rect x="1285.63" y="676.74" width="21.75" height="19.41" fill="#82b2ca"/><rect x="1306.98" y="676.74" width="21.75" height="19.41" fill="#9dc2d5"/><rect x="1328.33" y="676.74" width="21.75" height="19.41" fill="#22709b"/><rect x="1349.68" y="676.74" width="21.75" height="19.41" fill="#22709b"/><rect x="1371.02" y="676.74" width="21.75" height="19.41" fill="#e9dfcc"/><rect x="1392.37" y="676.74" width="21.75" height="19.41" fill="#d0e0e8"/><rect x="1413.72" y="676.74" width="21.75" height="19.41" fill="#a47e33"/><rect x="1435.07" y="676.74" width="21.75" height="19.41" fill="#d6c39b"/><rect x="1456.42" y="676.74" width="21.75" height="19.41" fill="#eeebe0"/><rect x="1477.76" y="676.74" width="21.75" height="19.41" fill="#e9dfcc"/><rect x="1499.11" y="676.74" width="21.75" height="19.41" fill="#cdb585"/><rect x="1520.46" y="676.74" width="21.75" height="19.41" fill="#e9dfcc"/><rect x="1541.81" y="676.74" width="21.75" height="19.41" fill="#c4a770"/><rect x="1563.16" y="676.74" width="21.75" height="19.41" fill="#b9d5e1"/><rect x="1584.50" y="676.74" width="21.75" height="19.41" fill="#e3e9ec"/><rect x="1605.85" y="676.74" width="21.75" height="19.41" fill="#e9dfcc"/><rect x="1627.20" y="676.74" width="21.75" height="19.41" fill="#b8985c"/><rect x="1648.55" y="676.74" width="21.75" height="19.41" fill="#ad8b4a"/><rect x="1669.90" y="676.74" width="21.75" height="19.41" fill="#d6c39b"/><rect x="1093.50" y="695.74" width="21.75" height="19.41" fill="#9dc2d5"/><rect x="1114.85" y="695.74" width="21.75" height="19.41" fill="#021a60"/><rect x="1136.20" y="695.74" width="21.75" height="19.41" fill="#68a2c0"/><rect x="1157.54" y="695.74" width="21.75" height="19.41" fill="#82b2ca"/><rect x="1178.89" y="695.74" width="21.75" height="19.41" fill="#82b2ca"/><rect x="1200.24" y="695.74" width="21.75" height="19.41" fill="#e3e9ec"/><rect x="1221.59" y="695.74" width="21.75" height="19.41" fill="#82b2ca"/><rect x="1242.94" y="695.74" width="21.75" height="19.41" fill="#e3e9ec"/><rect x="1264.28" y="695.74" width="21.75" height="19.41" fill="#22709b"/><rect x="1285.63" y="695.74" width="21.75" height="19.41" fill="#5092b5"/><rect x="1306.98" y="695.74" width="21.75" height="19.41" fill="#e3e9ec"/><rect x="1328.33" y="695.74" width="21.75" height="19.41" fill="#5092b5"/><rect x="1349.68" y="695.74" width="21.75" height="19.41" fill="#68a2c0"/><rect x="1371.02" y="695.74" width="21.75" height="19.41" fill="#d6c39b"/><rect x="1392.37" y="695.74" width="21.75" height="19.41" fill="#eeebe0"/><rect x="1413.72" y="695.74" width="21.75" height="19.41" fill="#b8985c"/><rect x="1435.07" y="695.74" width="21.75" height="19.41" fill="#eeebe0"/><rect x="1456.42" y="695.74" width="21.75" height="19.41" fill="#eeebe0"/><rect x="1477.76" y="695.74" width="21.75" height="19.41" fill="#9dc2d5"/><rect x="1499.11" y="695.74" width="21.75" height="19.41" fill="#e9dfcc"/><rect x="1520.46" y="695.74" width="21.75" height="19.41" fill="#b8985c"/><rect x="1541.81" y="695.74" width="21.75" height="19.41" fill="#a47e33"/><rect x="1563.16" y="695.74" width="21.75" height="19.41" fill="#eeebe0"/><rect x="1584.50" y="695.74" width="21.75" height="19.41" fill="#e3e9ec"/><rect x="1605.85" y="695.74" width="21.75" height="19.41" fill="#dfd1b1"/><rect x="1627.20" y="695.74" width="21.75" height="19.41" fill="#d6c39b"/><rect x="1648.55" y="695.74" width="21.75" height="19.41" fill="#d6c39b"/><rect x="1669.90" y="695.74" width="21.75" height="19.41" fill="#c4a770"/><rect x="1093.50" y="714.75" width="21.75" height="19.41" fill="#e3e9ec"/><rect x="1114.85" y="714.75" width="21.75" height="19.41" fill="#0e528a"/><rect x="1136.20" y="714.75" width="21.75" height="19.41" fill="#3a82ab"/><rect x="1157.54" y="714.75" width="21.75" height="19.41" fill="#68a2c0"/><rect x="1178.89" y="714.75" width="21.75" height="19.41" fill="#82b2ca"/><rect x="1200.24" y="714.75" width="21.75" height="19.41" fill="#e9dfcc"/><rect x="1221.59" y="714.75" width="21.75" height="19.41" fill="#82b2ca"/><rect x="1242.94" y="714.75" width="21.75" height="19.41" fill="#e3e9ec"/><rect x="1264.28" y="714.75" width="21.75" height="19.41" fill="#9dc2d5"/><rect x="1285.63" y="714.75" width="21.75" height="19.41" fill="#146096"/><rect x="1306.98" y="714.75" width="21.75" height="19.41" fill="#82b2ca"/><rect x="1328.33" y="714.75" width="21.75" height="19.41" fill="#146096"/><rect x="1349.68" y="714.75" width="21.75" height="19.41" fill="#82b2ca"/><rect x="1371.02" y="714.75" width="21.75" height="19.41" fill="#8c5a0c"/><rect x="1392.37" y="714.75" width="21.75" height="19.41" fill="#cdb585"/><rect x="1413.72" y="714.75" width="21.75" height="19.41" fill="#ad8b4a"/><rect x="1435.07" y="714.75" width="21.75" height="19.41" fill="#b8985c"/><rect x="1456.42" y="714.75" width="21.75" height="19.41" fill="#b9d5e1"/><rect x="1477.76" y="714.75" width="21.75" height="19.41" fill="#e9dfcc"/><rect x="1499.11" y="714.75" width="21.75" height="19.41" fill="#eeebe0"/><rect x="1520.46" y="714.75" width="21.75" height="19.41" fill="#d6c39b"/><rect x="1541.81" y="714.75" width="21.75" height="19.41" fill="#dfd1b1"/><rect x="1563.16" y="714.75" width="21.75" height="19.41" fill="#b9d5e1"/><rect x="1584.50" y="714.75" width="21.75" height="19.41" fill="#d0e0e8"/><rect x="1605.85" y="714.75" width="21.75" height="19.41" fill="#eeebe0"/><rect x="1627.20" y="714.75" width="21.75" height="19.41" fill="#eeebe0"/><rect x="1648.55" y="714.75" width="21.75" height="19.41" fill="#eeebe0"/><rect x="1669.90" y="714.75" width="21.75" height="19.41" fill="#cdb585"/><rect x="1093.50" y="733.76" width="21.75" height="19.41" fill="#3a82ab"/><rect x="1114.85" y="733.76" width="21.75" height="19.41" fill="#146096"/><rect x="1136.20" y="733.76" width="21.75" height="19.41" fill="#5092b5"/><rect x="1157.54" y="733.76" width="21.75" height="19.41" fill="#d0e0e8"/><rect x="1178.89" y="733.76" width="21.75" height="19.41" fill="#eeebe0"/><rect x="1200.24" y="733.76" width="21.75" height="19.41" fill="#3a82ab"/><rect x="1221.59" y="733.76" width="21.75" height="19.41" fill="#5092b5"/><rect x="1242.94" y="733.76" width="21.75" height="19.41" fill="#3a82ab"/><rect x="1264.28" y="733.76" width="21.75" height="19.41" fill="#68a2c0"/><rect x="1285.63" y="733.76" width="21.75" height="19.41" fill="#22709b"/><rect x="1306.98" y="733.76" width="21.75" height="19.41" fill="#3a82ab"/><rect x="1328.33" y="733.76" width="21.75" height="19.41" fill="#e3e9ec"/><rect x="1349.68" y="733.76" width="21.75" height="19.41" fill="#b9d5e1"/><rect x="1371.02" y="733.76" width="21.75" height="19.41" fill="#dfd1b1"/><rect x="1392.37" y="733.76" width="21.75" height="19.41" fill="#cdb585"/><rect x="1413.72" y="733.76" width="21.75" height="19.41" fill="#b8985c"/><rect x="1435.07" y="733.76" width="21.75" height="19.41" fill="#ad8b4a"/><rect x="1456.42" y="733.76" width="21.75" height="19.41" fill="#cdb585"/><rect x="1477.76" y="733.76" width="21.75" height="19.41" fill="#e9dfcc"/><rect x="1499.11" y="733.76" width="21.75" height="19.41" fill="#cdb585"/><rect x="1520.46" y="733.76" width="21.75" height="19.41" fill="#cdb585"/><rect x="1541.81" y="733.76" width="21.75" height="19.41" fill="#d6c39b"/><rect x="1563.16" y="733.76" width="21.75" height="19.41" fill="#68a2c0"/><rect x="1584.50" y="733.76" width="21.75" height="19.41" fill="#c4a770"/><rect x="1605.85" y="733.76" width="21.75" height="19.41" fill="#e3e9ec"/><rect x="1627.20" y="733.76" width="21.75" height="19.41" fill="#dfd1b1"/><rect x="1648.55" y="733.76" width="21.75" height="19.41" fill="#eeebe0"/><rect x="1669.90" y="733.76" width="21.75" height="19.41" fill="#dfd1b1"/><rect x="1093.50" y="752.76" width="21.75" height="19.41" fill="#68a2c0"/><rect x="1114.85" y="752.76" width="21.75" height="19.41" fill="#5092b5"/><rect x="1136.20" y="752.76" width="21.75" height="19.41" fill="#b9d5e1"/><rect x="1157.54" y="752.76" width="21.75" height="19.41" fill="#22709b"/><rect x="1178.89" y="752.76" width="21.75" height="19.41" fill="#5092b5"/><rect x="1200.24" y="752.76" width="21.75" height="19.41" fill="#d0e0e8"/><rect x="1221.59" y="752.76" width="21.75" height="19.41" fill="#eeebe0"/><rect x="1242.94" y="752.76" width="21.75" height="19.41" fill="#82b2ca"/><rect x="1264.28" y="752.76" width="21.75" height="19.41" fill="#68a2c0"/><rect x="1285.63" y="752.76" width="21.75" height="19.41" fill="#22709b"/><rect x="1306.98" y="752.76" width="21.75" height="19.41" fill="#e3e9ec"/><rect x="1328.33" y="752.76" width="21.75" height="19.41" fill="#3a82ab"/><rect x="1349.68" y="752.76" width="21.75" height="19.41" fill="#5092b5"/><rect x="1371.02" y="752.76" width="21.75" height="19.41" fill="#dfd1b1"/><rect x="1392.37" y="752.76" width="21.75" height="19.41" fill="#d6c39b"/><rect x="1413.72" y="752.76" width="21.75" height="19.41" fill="#d6c39b"/><rect x="1435.07" y="752.76" width="21.75" height="19.41" fill="#844f00"/><rect x="1456.42" y="752.76" width="21.75" height="19.41" fill="#eeebe0"/><rect x="1477.76" y="752.76" width="21.75" height="19.41" fill="#5092b5"/><rect x="1499.11" y="752.76" width="21.75" height="19.41" fill="#d0e0e8"/><rect x="1520.46" y="752.76" width="21.75" height="19.41" fill="#c4a770"/><rect x="1541.81" y="752.76" width="21.75" height="19.41" fill="#c4a770"/><rect x="1563.16" y="752.76" width="21.75" height="19.41" fill="#d6c39b"/><rect x="1584.50" y="752.76" width="21.75" height="19.41" fill="#cdb585"/><rect x="1605.85" y="752.76" width="21.75" height="19.41" fill="#cdb585"/><rect x="1627.20" y="752.76" width="21.75" height="19.41" fill="#c4a770"/><rect x="1648.55" y="752.76" width="21.75" height="19.41" fill="#9dc2d5"/><rect x="1669.90" y="752.76" width="21.75" height="19.41" fill="#b9d5e1"/><rect x="1093.50" y="771.77" width="21.75" height="19.41" fill="#b9d5e1"/><rect x="1114.85" y="771.77" width="21.75" height="19.41" fill="#0a457d"/><rect x="1136.20" y="771.77" width="21.75" height="19.41" fill="#146096"/><rect x="1157.54" y="771.77" width="21.75" height="19.41" fill="#5092b5"/><rect x="1178.89" y="771.77" width="21.75" height="19.41" fill="#5092b5"/><rect x="1200.24" y="771.77" width="21.75" height="19.41" fill="#e9dfcc"/><rect x="1221.59" y="771.77" width="21.75" height="19.41" fill="#b9d5e1"/><rect x="1242.94" y="771.77" width="21.75" height="19.41" fill="#9dc2d5"/><rect x="1264.28" y="771.77" width="21.75" height="19.41" fill="#d0e0e8"/><rect x="1285.63" y="771.77" width="21.75" height="19.41" fill="#3a82ab"/><rect x="1306.98" y="771.77" width="21.75" height="19.41" fill="#5092b5"/><rect x="1328.33" y="771.77" width="21.75" height="19.41" fill="#5092b5"/><rect x="1349.68" y="771.77" width="21.75" height="19.41" fill="#5092b5"/><rect x="1371.02" y="771.77" width="21.75" height="19.41" fill="#c4a770"/><rect x="1392.37" y="771.77" width="21.75" height="19.41" fill="#d0e0e8"/><rect x="1413.72" y="771.77" width="21.75" height="19.41" fill="#b8985c"/><rect x="1435.07" y="771.77" width="21.75" height="19.41" fill="#dfd1b1"/><rect x="1456.42" y="771.77" width="21.75" height="19.41" fill="#82b2ca"/><rect x="1477.76" y="771.77" width="21.75" height="19.41" fill="#cdb585"/><rect x="1499.11" y="771.77" width="21.75" height="19.41" fill="#d6c39b"/><rect x="1520.46" y="771.77" width="21.75" height="19.41" fill="#e9dfcc"/><rect x="1541.81" y="771.77" width="21.75" height="19.41" fill="#c4a770"/><rect x="1563.16" y="771.77" width="21.75" height="19.41" fill="#d6c39b"/><rect x="1584.50" y="771.77" width="21.75" height="19.41" fill="#cdb585"/><rect x="1605.85" y="771.77" width="21.75" height="19.41" fill="#c4a770"/><rect x="1627.20" y="771.77" width="21.75" height="19.41" fill="#e3e9ec"/><rect x="1648.55" y="771.77" width="21.75" height="19.41" fill="#e3e9ec"/><rect x="1669.90" y="771.77" width="21.75" height="19.41" fill="#c4a770"/><rect x="1093.50" y="790.77" width="21.75" height="19.41" fill="#68a2c0"/><rect x="1114.85" y="790.77" width="21.75" height="19.41" fill="#146096"/><rect x="1136.20" y="790.77" width="21.75" height="19.41" fill="#3a82ab"/><rect x="1157.54" y="790.77" width="21.75" height="19.41" fill="#9dc2d5"/><rect x="1178.89" y="790.77" width="21.75" height="19.41" fill="#3a82ab"/><rect x="1200.24" y="790.77" width="21.75" height="19.41" fill="#dfd1b1"/><rect x="1221.59" y="790.77" width="21.75" height="19.41" fill="#d0e0e8"/><rect x="1242.94" y="790.77" width="21.75" height="19.41" fill="#d0e0e8"/><rect x="1264.28" y="790.77" width="21.75" height="19.41" fill="#22709b"/><rect x="1285.63" y="790.77" width="21.75" height="19.41" fill="#3a82ab"/><rect x="1306.98" y="790.77" width="21.75" height="19.41" fill="#3a82ab"/><rect x="1328.33" y="790.77" width="21.75" height="19.41" fill="#3a82ab"/><rect x="1349.68" y="790.77" width="21.75" height="19.41" fill="#9dc2d5"/><rect x="1371.02" y="790.77" width="21.75" height="19.41" fill="#9a6c1e"/><rect x="1392.37" y="790.77" width="21.75" height="19.41" fill="#eeebe0"/><rect x="1413.72" y="790.77" width="21.75" height="19.41" fill="#cdb585"/><rect x="1435.07" y="790.77" width="21.75" height="19.41" fill="#d6c39b"/><rect x="1456.42" y="790.77" width="21.75" height="19.41" fill="#82b2ca"/><rect x="1477.76" y="790.77" width="21.75" height="19.41" fill="#d0e0e8"/><rect x="1499.11" y="790.77" width="21.75" height="19.41" fill="#e9dfcc"/><rect x="1520.46" y="790.77" width="21.75" height="19.41" fill="#d6c39b"/><rect x="1541.81" y="790.77" width="21.75" height="19.41" fill="#e9dfcc"/><rect x="1563.16" y="790.77" width="21.75" height="19.41" fill="#dfd1b1"/><rect x="1584.50" y="790.77" width="21.75" height="19.41" fill="#cdb585"/><rect x="1605.85" y="790.77" width="21.75" height="19.41" fill="#ad8b4a"/><rect x="1627.20" y="790.77" width="21.75" height="19.41" fill="#e9dfcc"/><rect x="1648.55" y="790.77" width="21.75" height="19.41" fill="#eeebe0"/><rect x="1669.90" y="790.77" width="21.75" height="19.41" fill="#cdb585"/><rect x="1093.50" y="809.78" width="21.75" height="19.41" fill="#b9d5e1"/><rect x="1114.85" y="809.78" width="21.75" height="19.41" fill="#146096"/><rect x="1136.20" y="809.78" width="21.75" height="19.41" fill="#3a82ab"/><rect x="1157.54" y="809.78" width="21.75" height="19.41" fill="#b9d5e1"/><rect x="1178.89" y="809.78" width="21.75" height="19.41" fill="#e3e9ec"/><rect x="1200.24" y="809.78" width="21.75" height="19.41" fill="#9dc2d5"/><rect x="1221.59" y="809.78" width="21.75" height="19.41" fill="#b9d5e1"/><rect x="1242.94" y="809.78" width="21.75" height="19.41" fill="#146096"/><rect x="1264.28" y="809.78" width="21.75" height="19.41" fill="#68a2c0"/><rect x="1285.63" y="809.78" width="21.75" height="19.41" fill="#b9d5e1"/><rect x="1306.98" y="809.78" width="21.75" height="19.41" fill="#22709b"/><rect x="1328.33" y="809.78" width="21.75" height="19.41" fill="#b9d5e1"/><rect x="1349.68" y="809.78" width="21.75" height="19.41" fill="#68a2c0"/><rect x="1371.02" y="809.78" width="21.75" height="19.41" fill="#8c5a0c"/><rect x="1392.37" y="809.78" width="21.75" height="19.41" fill="#cdb585"/><rect x="1413.72" y="809.78" width="21.75" height="19.41" fill="#c4a770"/><rect x="1435.07" y="809.78" width="21.75" height="19.41" fill="#e9dfcc"/><rect x="1456.42" y="809.78" width="21.75" height="19.41" fill="#dfd1b1"/><rect x="1477.76" y="809.78" width="21.75" height="19.41" fill="#dfd1b1"/><rect x="1499.11" y="809.78" width="21.75" height="19.41" fill="#e3e9ec"/><rect x="1520.46" y="809.78" width="21.75" height="19.41" fill="#c4a770"/><rect x="1541.81" y="809.78" width="21.75" height="19.41" fill="#eeebe0"/><rect x="1563.16" y="809.78" width="21.75" height="19.41" fill="#146096"/><rect x="1584.50" y="809.78" width="21.75" height="19.41" fill="#e9dfcc"/><rect x="1605.85" y="809.78" width="21.75" height="19.41" fill="#cdb585"/><rect x="1627.20" y="809.78" width="21.75" height="19.41" fill="#d6c39b"/><rect x="1648.55" y="809.78" width="21.75" height="19.41" fill="#eeebe0"/><rect x="1669.90" y="809.78" width="21.75" height="19.41" fill="#dfd1b1"/><rect x="1093.50" y="828.79" width="21.75" height="19.41" fill="#d0e0e8"/><rect x="1114.85" y="828.79" width="21.75" height="19.41" fill="#68a2c0"/><rect x="1136.20" y="828.79" width="21.75" height="19.41" fill="#b9d5e1"/><rect x="1157.54" y="828.79" width="21.75" height="19.41" fill="#e3e9ec"/><rect x="1178.89" y="828.79" width="21.75" height="19.41" fill="#d0e0e8"/><rect x="1200.24" y="828.79" width="21.75" height="19.41" fill="#82b2ca"/><rect x="1221.59" y="828.79" width="21.75" height="19.41" fill="#68a2c0"/><rect x="1242.94" y="828.79" width="21.75" height="19.41" fill="#5092b5"/><rect x="1264.28" y="828.79" width="21.75" height="19.41" fill="#e3e9ec"/><rect x="1285.63" y="828.79" width="21.75" height="19.41" fill="#3a82ab"/><rect x="1306.98" y="828.79" width="21.75" height="19.41" fill="#146096"/><rect x="1328.33" y="828.79" width="21.75" height="19.41" fill="#3a82ab"/><rect x="1349.68" y="828.79" width="21.75" height="19.41" fill="#146096"/><rect x="1371.02" y="828.79" width="21.75" height="19.41" fill="#7a4302"/><rect x="1392.37" y="828.79" width="21.75" height="19.41" fill="#c4a770"/><rect x="1413.72" y="828.79" width="21.75" height="19.41" fill="#e9dfcc"/><rect x="1435.07" y="828.79" width="21.75" height="19.41" fill="#d6c39b"/><rect x="1456.42" y="828.79" width="21.75" height="19.41" fill="#eeebe0"/><rect x="1477.76" y="828.79" width="21.75" height="19.41" fill="#cdb585"/><rect x="1499.11" y="828.79" width="21.75" height="19.41" fill="#b9d5e1"/><rect x="1520.46" y="828.79" width="21.75" height="19.41" fill="#e3e9ec"/><rect x="1541.81" y="828.79" width="21.75" height="19.41" fill="#d6c39b"/><rect x="1563.16" y="828.79" width="21.75" height="19.41" fill="#b8985c"/><rect x="1584.50" y="828.79" width="21.75" height="19.41" fill="#cdb585"/><rect x="1605.85" y="828.79" width="21.75" height="19.41" fill="#e3e9ec"/><rect x="1627.20" y="828.79" width="21.75" height="19.41" fill="#9dc2d5"/><rect x="1648.55" y="828.79" width="21.75" height="19.41" fill="#b9d5e1"/><rect x="1669.90" y="828.79" width="21.75" height="19.41" fill="#dfd1b1"/><rect x="1093.50" y="847.79" width="21.75" height="19.41" fill="#9dc2d5"/><rect x="1114.85" y="847.79" width="21.75" height="19.41" fill="#146096"/><rect x="1136.20" y="847.79" width="21.75" height="19.41" fill="#22709b"/><rect x="1157.54" y="847.79" width="21.75" height="19.41" fill="#b9d5e1"/><rect x="1178.89" y="847.79" width="21.75" height="19.41" fill="#146096"/><rect x="1200.24" y="847.79" width="21.75" height="19.41" fill="#d0e0e8"/><rect x="1221.59" y="847.79" width="21.75" height="19.41" fill="#b9d5e1"/><rect x="1242.94" y="847.79" width="21.75" height="19.41" fill="#b9d5e1"/><rect x="1264.28" y="847.79" width="21.75" height="19.41" fill="#e3e9ec"/><rect x="1285.63" y="847.79" width="21.75" height="19.41" fill="#3a82ab"/><rect x="1306.98" y="847.79" width="21.75" height="19.41" fill="#146096"/><rect x="1328.33" y="847.79" width="21.75" height="19.41" fill="#b9d5e1"/><rect x="1349.68" y="847.79" width="21.75" height="19.41" fill="#68a2c0"/><rect x="1371.02" y="847.79" width="21.75" height="19.41" fill="#9a6c1e"/><rect x="1392.37" y="847.79" width="21.75" height="19.41" fill="#a47e33"/><rect x="1413.72" y="847.79" width="21.75" height="19.41" fill="#cdb585"/><rect x="1435.07" y="847.79" width="21.75" height="19.41" fill="#c4a770"/><rect x="1456.42" y="847.79" width="21.75" height="19.41" fill="#dfd1b1"/><rect x="1477.76" y="847.79" width="21.75" height="19.41" fill="#e9dfcc"/><rect x="1499.11" y="847.79" width="21.75" height="19.41" fill="#e9dfcc"/><rect x="1520.46" y="847.79" width="21.75" height="19.41" fill="#c4a770"/><rect x="1541.81" y="847.79" width="21.75" height="19.41" fill="#dfd1b1"/><rect x="1563.16" y="847.79" width="21.75" height="19.41" fill="#b9d5e1"/><rect x="1584.50" y="847.79" width="21.75" height="19.41" fill="#eeebe0"/><rect x="1605.85" y="847.79" width="21.75" height="19.41" fill="#d0e0e8"/><rect x="1627.20" y="847.79" width="21.75" height="19.41" fill="#b9d5e1"/><rect x="1648.55" y="847.79" width="21.75" height="19.41" fill="#d6c39b"/><rect x="1669.90" y="847.79" width="21.75" height="19.41" fill="#d6c39b"/><rect x="1093.50" y="866.80" width="21.75" height="19.41" fill="#cdb585"/><rect x="1114.85" y="866.80" width="21.75" height="19.41" fill="#c4a770"/><rect x="1136.20" y="866.80" width="21.75" height="19.41" fill="#82b2ca"/><rect x="1157.54" y="866.80" width="21.75" height="19.41" fill="#eeebe0"/><rect x="1178.89" y="866.80" width="21.75" height="19.41" fill="#dfd1b1"/><rect x="1200.24" y="866.80" width="21.75" height="19.41" fill="#cdb585"/><rect x="1221.59" y="866.80" width="21.75" height="19.41" fill="#c4a770"/><rect x="1242.94" y="866.80" width="21.75" height="19.41" fill="#b8985c"/><rect x="1264.28" y="866.80" width="21.75" height="19.41" fill="#eeebe0"/><rect x="1285.63" y="866.80" width="21.75" height="19.41" fill="#dfd1b1"/><rect x="1306.98" y="866.80" width="21.75" height="19.41" fill="#eeebe0"/><rect x="1328.33" y="866.80" width="21.75" height="19.41" fill="#d6c39b"/><rect x="1349.68" y="866.80" width="21.75" height="19.41" fill="#c4a770"/><rect x="1371.02" y="866.80" width="21.75" height="19.41" fill="#82b2ca"/><rect x="1392.37" y="866.80" width="21.75" height="19.41" fill="#0a457d"/><rect x="1413.72" y="866.80" width="21.75" height="19.41" fill="#68a2c0"/><rect x="1435.07" y="866.80" width="21.75" height="19.41" fill="#d0e0e8"/><rect x="1456.42" y="866.80" width="21.75" height="19.41" fill="#68a2c0"/><rect x="1477.76" y="866.80" width="21.75" height="19.41" fill="#68a2c0"/><rect x="1499.11" y="866.80" width="21.75" height="19.41" fill="#82b2ca"/><rect x="1520.46" y="866.80" width="21.75" height="19.41" fill="#0b3570"/><rect x="1541.81" y="866.80" width="21.75" height="19.41" fill="#22709b"/><rect x="1563.16" y="866.80" width="21.75" height="19.41" fill="#e3e9ec"/><rect x="1584.50" y="866.80" width="21.75" height="19.41" fill="#9dc2d5"/><rect x="1605.85" y="866.80" width="21.75" height="19.41" fill="#d6c39b"/><rect x="1627.20" y="866.80" width="21.75" height="19.41" fill="#9dc2d5"/><rect x="1648.55" y="866.80" width="21.75" height="19.41" fill="#d6c39b"/><rect x="1669.90" y="866.80" width="21.75" height="19.41" fill="#e3e9ec"/><rect x="1093.50" y="885.80" width="21.75" height="19.41" fill="#9dc2d5"/><rect x="1114.85" y="885.80" width="21.75" height="19.41" fill="#82b2ca"/><rect x="1136.20" y="885.80" width="21.75" height="19.41" fill="#82b2ca"/><rect x="1157.54" y="885.80" width="21.75" height="19.41" fill="#d0e0e8"/><rect x="1178.89" y="885.80" width="21.75" height="19.41" fill="#dfd1b1"/><rect x="1200.24" y="885.80" width="21.75" height="19.41" fill="#d0e0e8"/><rect x="1221.59" y="885.80" width="21.75" height="19.41" fill="#c4a770"/><rect x="1242.94" y="885.80" width="21.75" height="19.41" fill="#cdb585"/><rect x="1264.28" y="885.80" width="21.75" height="19.41" fill="#eeebe0"/><rect x="1285.63" y="885.80" width="21.75" height="19.41" fill="#b8985c"/><rect x="1306.98" y="885.80" width="21.75" height="19.41" fill="#b8985c"/><rect x="1328.33" y="885.80" width="21.75" height="19.41" fill="#c4a770"/><rect x="1349.68" y="885.80" width="21.75" height="19.41" fill="#dfd1b1"/><rect x="1371.02" y="885.80" width="21.75" height="19.41" fill="#22709b"/><rect x="1392.37" y="885.80" width="21.75" height="19.41" fill="#d6c39b"/><rect x="1413.72" y="885.80" width="21.75" height="19.41" fill="#0e528a"/><rect x="1435.07" y="885.80" width="21.75" height="19.41" fill="#e3e9ec"/><rect x="1456.42" y="885.80" width="21.75" height="19.41" fill="#22709b"/><rect x="1477.76" y="885.80" width="21.75" height="19.41" fill="#b9d5e1"/><rect x="1499.11" y="885.80" width="21.75" height="19.41" fill="#e9dfcc"/><rect x="1520.46" y="885.80" width="21.75" height="19.41" fill="#eeebe0"/><rect x="1541.81" y="885.80" width="21.75" height="19.41" fill="#9dc2d5"/><rect x="1563.16" y="885.80" width="21.75" height="19.41" fill="#e9dfcc"/><rect x="1584.50" y="885.80" width="21.75" height="19.41" fill="#0b2c6c"/><rect x="1605.85" y="885.80" width="21.75" height="19.41" fill="#cdb585"/><rect x="1627.20" y="885.80" width="21.75" height="19.41" fill="#e3e9ec"/><rect x="1648.55" y="885.80" width="21.75" height="19.41" fill="#82b2ca"/><rect x="1669.90" y="885.80" width="21.75" height="19.41" fill="#68a2c0"/><rect x="1093.50" y="904.81" width="21.75" height="19.41" fill="#dfd1b1"/><rect x="1114.85" y="904.81" width="21.75" height="19.41" fill="#d0e0e8"/><rect x="1136.20" y="904.81" width="21.75" height="19.41" fill="#b8985c"/><rect x="1157.54" y="904.81" width="21.75" height="19.41" fill="#0a2565"/><rect x="1178.89" y="904.81" width="21.75" height="19.41" fill="#a47e33"/><rect x="1200.24" y="904.81" width="21.75" height="19.41" fill="#eeebe0"/><rect x="1221.59" y="904.81" width="21.75" height="19.41" fill="#68a2c0"/><rect x="1242.94" y="904.81" width="21.75" height="19.41" fill="#b9d5e1"/><rect x="1264.28" y="904.81" width="21.75" height="19.41" fill="#d0e0e8"/><rect x="1285.63" y="904.81" width="21.75" height="19.41" fill="#82b2ca"/><rect x="1306.98" y="904.81" width="21.75" height="19.41" fill="#9dc2d5"/><rect x="1328.33" y="904.81" width="21.75" height="19.41" fill="#d0e0e8"/><rect x="1349.68" y="904.81" width="21.75" height="19.41" fill="#9dc2d5"/><rect x="1371.02" y="904.81" width="21.75" height="19.41" fill="#dfd1b1"/><rect x="1392.37" y="904.81" width="21.75" height="19.41" fill="#b9d5e1"/><rect x="1413.72" y="904.81" width="21.75" height="19.41" fill="#b9d5e1"/><rect x="1435.07" y="904.81" width="21.75" height="19.41" fill="#cdb585"/><rect x="1456.42" y="904.81" width="21.75" height="19.41" fill="#22709b"/><rect x="1477.76" y="904.81" width="21.75" height="19.41" fill="#9dc2d5"/><rect x="1499.11" y="904.81" width="21.75" height="19.41" fill="#146096"/><rect x="1520.46" y="904.81" width="21.75" height="19.41" fill="#d6c39b"/><rect x="1541.81" y="904.81" width="21.75" height="19.41" fill="#8c5a0c"/><rect x="1563.16" y="904.81" width="21.75" height="19.41" fill="#82b2ca"/><rect x="1584.50" y="904.81" width="21.75" height="19.41" fill="#eeebe0"/><rect x="1605.85" y="904.81" width="21.75" height="19.41" fill="#d0e0e8"/><rect x="1627.20" y="904.81" width="21.75" height="19.41" fill="#d0e0e8"/><rect x="1648.55" y="904.81" width="21.75" height="19.41" fill="#e9dfcc"/><rect x="1669.90" y="904.81" width="21.75" height="19.41" fill="#dfd1b1"/><rect x="1093.50" y="923.82" width="21.75" height="19.41" fill="#82b2ca"/><rect x="1114.85" y="923.82" width="21.75" height="19.41" fill="#3a82ab"/><rect x="1136.20" y="923.82" width="21.75" height="19.41" fill="#d0e0e8"/><rect x="1157.54" y="923.82" width="21.75" height="19.41" fill="#68a2c0"/><rect x="1178.89" y="923.82" width="21.75" height="19.41" fill="#d0e0e8"/><rect x="1200.24" y="923.82" width="21.75" height="19.41" fill="#d0e0e8"/><rect x="1221.59" y="923.82" width="21.75" height="19.41" fill="#5092b5"/><rect x="1242.94" y="923.82" width="21.75" height="19.41" fill="#e3e9ec"/><rect x="1264.28" y="923.82" width="21.75" height="19.41" fill="#68a2c0"/><rect x="1285.63" y="923.82" width="21.75" height="19.41" fill="#5092b5"/><rect x="1306.98" y="923.82" width="21.75" height="19.41" fill="#68a2c0"/><rect x="1328.33" y="923.82" width="21.75" height="19.41" fill="#5092b5"/><rect x="1349.68" y="923.82" width="21.75" height="19.41" fill="#5092b5"/><rect x="1371.02" y="923.82" width="21.75" height="19.41" fill="#d6c39b"/><rect x="1392.37" y="923.82" width="21.75" height="19.41" fill="#d6c39b"/><rect x="1413.72" y="923.82" width="21.75" height="19.41" fill="#eeebe0"/><rect x="1435.07" y="923.82" width="21.75" height="19.41" fill="#5e1d00"/><rect x="1456.42" y="923.82" width="21.75" height="19.41" fill="#eeebe0"/><rect x="1477.76" y="923.82" width="21.75" height="19.41" fill="#b9d5e1"/><rect x="1499.11" y="923.82" width="21.75" height="19.41" fill="#82b2ca"/><rect x="1520.46" y="923.82" width="21.75" height="19.41" fill="#dfd1b1"/><rect x="1541.81" y="923.82" width="21.75" height="19.41" fill="#d6c39b"/><rect x="1563.16" y="923.82" width="21.75" height="19.41" fill="#eeebe0"/><rect x="1584.50" y="923.82" width="21.75" height="19.41" fill="#d6c39b"/><rect x="1605.85" y="923.82" width="21.75" height="19.41" fill="#c4a770"/><rect x="1627.20" y="923.82" width="21.75" height="19.41" fill="#c4a770"/><rect x="1648.55" y="923.82" width="21.75" height="19.41" fill="#d0e0e8"/><rect x="1669.90" y="923.82" width="21.75" height="19.41" fill="#b9d5e1"/><rect x="1093.50" y="942.82" width="21.75" height="19.41" fill="#0b2c6c"/><rect x="1114.85" y="942.82" width="21.75" height="19.41" fill="#e3e9ec"/><rect x="1136.20" y="942.82" width="21.75" height="19.41" fill="#e3e9ec"/><rect x="1157.54" y="942.82" width="21.75" height="19.41" fill="#e9dfcc"/><rect x="1178.89" y="942.82" width="21.75" height="19.41" fill="#d6c39b"/><rect x="1200.24" y="942.82" width="21.75" height="19.41" fill="#eeebe0"/><rect x="1221.59" y="942.82" width="21.75" height="19.41" fill="#eeebe0"/><rect x="1242.94" y="942.82" width="21.75" height="19.41" fill="#cdb585"/><rect x="1264.28" y="942.82" width="21.75" height="19.41" fill="#e9dfcc"/><rect x="1285.63" y="942.82" width="21.75" height="19.41" fill="#cdb585"/><rect x="1306.98" y="942.82" width="21.75" height="19.41" fill="#dfd1b1"/><rect x="1328.33" y="942.82" width="21.75" height="19.41" fill="#dfd1b1"/><rect x="1349.68" y="942.82" width="21.75" height="19.41" fill="#cdb585"/><rect x="1371.02" y="942.82" width="21.75" height="19.41" fill="#3a82ab"/><rect x="1392.37" y="942.82" width="21.75" height="19.41" fill="#0e528a"/><rect x="1413.72" y="942.82" width="21.75" height="19.41" fill="#0b2c6c"/><rect x="1435.07" y="942.82" width="21.75" height="19.41" fill="#d0e0e8"/><rect x="1456.42" y="942.82" width="21.75" height="19.41" fill="#d6c39b"/><rect x="1477.76" y="942.82" width="21.75" height="19.41" fill="#dfd1b1"/><rect x="1499.11" y="942.82" width="21.75" height="19.41" fill="#cdb585"/><rect x="1520.46" y="942.82" width="21.75" height="19.41" fill="#d6c39b"/><rect x="1541.81" y="942.82" width="21.75" height="19.41" fill="#9dc2d5"/><rect x="1563.16" y="942.82" width="21.75" height="19.41" fill="#d0e0e8"/><rect x="1584.50" y="942.82" width="21.75" height="19.41" fill="#b9d5e1"/><rect x="1605.85" y="942.82" width="21.75" height="19.41" fill="#e9dfcc"/><rect x="1627.20" y="942.82" width="21.75" height="19.41" fill="#82b2ca"/><rect x="1648.55" y="942.82" width="21.75" height="19.41" fill="#68a2c0"/><rect x="1669.90" y="942.82" width="21.75" height="19.41" fill="#82b2ca"/><rect x="1093.50" y="961.83" width="21.75" height="19.41" fill="#68a2c0"/><rect x="1114.85" y="961.83" width="21.75" height="19.41" fill="#0b2c6c"/><rect x="1136.20" y="961.83" width="21.75" height="19.41" fill="#146096"/><rect x="1157.54" y="961.83" width="21.75" height="19.41" fill="#82b2ca"/><rect x="1178.89" y="961.83" width="21.75" height="19.41" fill="#d0e0e8"/><rect x="1200.24" y="961.83" width="21.75" height="19.41" fill="#9dc2d5"/><rect x="1221.59" y="961.83" width="21.75" height="19.41" fill="#b9d5e1"/><rect x="1242.94" y="961.83" width="21.75" height="19.41" fill="#b9d5e1"/><rect x="1264.28" y="961.83" width="21.75" height="19.41" fill="#146096"/><rect x="1285.63" y="961.83" width="21.75" height="19.41" fill="#68a2c0"/><rect x="1306.98" y="961.83" width="21.75" height="19.41" fill="#b9d5e1"/><rect x="1328.33" y="961.83" width="21.75" height="19.41" fill="#5092b5"/><rect x="1349.68" y="961.83" width="21.75" height="19.41" fill="#b9d5e1"/><rect x="1371.02" y="961.83" width="21.75" height="19.41" fill="#c4a770"/><rect x="1392.37" y="961.83" width="21.75" height="19.41" fill="#dfd1b1"/><rect x="1413.72" y="961.83" width="21.75" height="19.41" fill="#b8985c"/><rect x="1435.07" y="961.83" width="21.75" height="19.41" fill="#d0e0e8"/><rect x="1456.42" y="961.83" width="21.75" height="19.41" fill="#e3e9ec"/><rect x="1477.76" y="961.83" width="21.75" height="19.41" fill="#b8985c"/><rect x="1499.11" y="961.83" width="21.75" height="19.41" fill="#d6c39b"/><rect x="1520.46" y="961.83" width="21.75" height="19.41" fill="#e9dfcc"/><rect x="1541.81" y="961.83" width="21.75" height="19.41" fill="#d6c39b"/><rect x="1563.16" y="961.83" width="21.75" height="19.41" fill="#e3e9ec"/><rect x="1584.50" y="961.83" width="21.75" height="19.41" fill="#dfd1b1"/><rect x="1605.85" y="961.83" width="21.75" height="19.41" fill="#eeebe0"/><rect x="1627.20" y="961.83" width="21.75" height="19.41" fill="#c4a770"/><rect x="1648.55" y="961.83" width="21.75" height="19.41" fill="#c4a770"/><rect x="1669.90" y="961.83" width="21.75" height="19.41" fill="#dfd1b1"/><rect x="1093.50" y="980.83" width="21.75" height="19.41" fill="#82b2ca"/><rect x="1114.85" y="980.83" width="21.75" height="19.41" fill="#0b2c6c"/><rect x="1136.20" y="980.83" width="21.75" height="19.41" fill="#0e528a"/><rect x="1157.54" y="980.83" width="21.75" height="19.41" fill="#82b2ca"/><rect x="1178.89" y="980.83" width="21.75" height="19.41" fill="#d0e0e8"/><rect x="1200.24" y="980.83" width="21.75" height="19.41" fill="#b9d5e1"/><rect x="1221.59" y="980.83" width="21.75" height="19.41" fill="#d0e0e8"/><rect x="1242.94" y="980.83" width="21.75" height="19.41" fill="#d0e0e8"/><rect x="1264.28" y="980.83" width="21.75" height="19.41" fill="#146096"/><rect x="1285.63" y="980.83" width="21.75" height="19.41" fill="#68a2c0"/><rect x="1306.98" y="980.83" width="21.75" height="19.41" fill="#82b2ca"/><rect x="1328.33" y="980.83" width="21.75" height="19.41" fill="#5092b5"/><rect x="1349.68" y="980.83" width="21.75" height="19.41" fill="#9dc2d5"/><rect x="1371.02" y="980.83" width="21.75" height="19.41" fill="#b8985c"/><rect x="1392.37" y="980.83" width="21.75" height="19.41" fill="#dfd1b1"/><rect x="1413.72" y="980.83" width="21.75" height="19.41" fill="#b8985c"/><rect x="1435.07" y="980.83" width="21.75" height="19.41" fill="#d0e0e8"/><rect x="1456.42" y="980.83" width="21.75" height="19.41" fill="#d0e0e8"/><rect x="1477.76" y="980.83" width="21.75" height="19.41" fill="#b8985c"/><rect x="1499.11" y="980.83" width="21.75" height="19.41" fill="#d6c39b"/><rect x="1520.46" y="980.83" width="21.75" height="19.41" fill="#e9dfcc"/><rect x="1541.81" y="980.83" width="21.75" height="19.41" fill="#d6c39b"/><rect x="1563.16" y="980.83" width="21.75" height="19.41" fill="#e3e9ec"/><rect x="1584.50" y="980.83" width="21.75" height="19.41" fill="#dfd1b1"/><rect x="1605.85" y="980.83" width="21.75" height="19.41" fill="#eeebe0"/><rect x="1627.20" y="980.83" width="21.75" height="19.41" fill="#d6c39b"/><rect x="1648.55" y="980.83" width="21.75" height="19.41" fill="#cdb585"/><rect x="1669.90" y="980.83" width="21.75" height="19.41" fill="#d6c39b"/><rect x="1093.50" y="999.84" width="21.75" height="19.41" fill="#9dc2d5"/><rect x="1114.85" y="999.84" width="21.75" height="19.41" fill="#0b2c6c"/><rect x="1136.20" y="999.84" width="21.75" height="19.41" fill="#3a82ab"/><rect x="1157.54" y="999.84" width="21.75" height="19.41" fill="#68a2c0"/><rect x="1178.89" y="999.84" width="21.75" height="19.41" fill="#e3e9ec"/><rect x="1200.24" y="999.84" width="21.75" height="19.41" fill="#b9d5e1"/><rect x="1221.59" y="999.84" width="21.75" height="19.41" fill="#9dc2d5"/><rect x="1242.94" y="999.84" width="21.75" height="19.41" fill="#9dc2d5"/><rect x="1264.28" y="999.84" width="21.75" height="19.41" fill="#b9d5e1"/><rect x="1285.63" y="999.84" width="21.75" height="19.41" fill="#5092b5"/><rect x="1306.98" y="999.84" width="21.75" height="19.41" fill="#146096"/><rect x="1328.33" y="999.84" width="21.75" height="19.41" fill="#68a2c0"/><rect x="1349.68" y="999.84" width="21.75" height="19.41" fill="#82b2ca"/><rect x="1371.02" y="999.84" width="21.75" height="19.41" fill="#9a6c1e"/><rect x="1392.37" y="999.84" width="21.75" height="19.41" fill="#e9dfcc"/><rect x="1413.72" y="999.84" width="21.75" height="19.41" fill="#ad8b4a"/><rect x="1435.07" y="999.84" width="21.75" height="19.41" fill="#d0e0e8"/><rect x="1456.42" y="999.84" width="21.75" height="19.41" fill="#d0e0e8"/><rect x="1477.76" y="999.84" width="21.75" height="19.41" fill="#c4a770"/><rect x="1499.11" y="999.84" width="21.75" height="19.41" fill="#dfd1b1"/><rect x="1520.46" y="999.84" width="21.75" height="19.41" fill="#d0e0e8"/><rect x="1541.81" y="999.84" width="21.75" height="19.41" fill="#dfd1b1"/><rect x="1563.16" y="999.84" width="21.75" height="19.41" fill="#dfd1b1"/><rect x="1584.50" y="999.84" width="21.75" height="19.41" fill="#d6c39b"/><rect x="1605.85" y="999.84" width="21.75" height="19.41" fill="#eeebe0"/><rect x="1627.20" y="999.84" width="21.75" height="19.41" fill="#d6c39b"/><rect x="1648.55" y="999.84" width="21.75" height="19.41" fill="#d6c39b"/><rect x="1669.90" y="999.84" width="21.75" height="19.41" fill="#cdb585"/></g>
<g shape-rendering="crispEdges"><rect x="1093.50" y="210.9" width="21.75" height="23" fill="#338833"/><rect x="1114.85" y="210.9" width="21.75" height="23" fill="#338833"/><rect x="1136.20" y="210.9" width="21.75" height="23" fill="#338833"/><rect x="1157.54" y="210.9" width="21.75" height="23" fill="#771a2b"/><rect x="1178.89" y="210.9" width="21.75" height="23" fill="#bebebe"/><rect x="1200.24" y="210.9" width="21.75" height="23" fill="#338833"/><rect x="1221.59" y="210.9" width="21.75" height="23" fill="#bebebe"/><rect x="1242.94" y="210.9" width="21.75" height="23" fill="#bebebe"/><rect x="1264.28" y="210.9" width="21.75" height="23" fill="#bebebe"/><rect x="1285.63" y="210.9" width="21.75" height="23" fill="#bebebe"/><rect x="1306.98" y="210.9" width="21.75" height="23" fill="#bebebe"/><rect x="1328.33" y="210.9" width="21.75" height="23" fill="#bebebe"/><rect x="1349.68" y="210.9" width="21.75" height="23" fill="#bebebe"/><rect x="1371.02" y="210.9" width="21.75" height="23" fill="#338833"/><rect x="1392.37" y="210.9" width="21.75" height="23" fill="#771a2b"/><rect x="1413.72" y="210.9" width="21.75" height="23" fill="#771a2b"/><rect x="1435.07" y="210.9" width="21.75" height="23" fill="#771a2b"/><rect x="1456.42" y="210.9" width="21.75" height="23" fill="#771a2b"/><rect x="1477.76" y="210.9" width="21.75" height="23" fill="#771a2b"/><rect x="1499.11" y="210.9" width="21.75" height="23" fill="#771a2b"/><rect x="1520.46" y="210.9" width="21.75" height="23" fill="#771a2b"/><rect x="1541.81" y="210.9" width="21.75" height="23" fill="#338833"/><rect x="1563.16" y="210.9" width="21.75" height="23" fill="#771a2b"/><rect x="1584.50" y="210.9" width="21.75" height="23" fill="#338833"/><rect x="1605.85" y="210.9" width="21.75" height="23" fill="#771a2b"/><rect x="1627.20" y="210.9" width="21.75" height="23" fill="#771a2b"/><rect x="1648.55" y="210.9" width="21.75" height="23" fill="#338833"/><rect x="1669.90" y="210.9" width="21.75" height="23" fill="#338833"/></g>
<path d="M1125.5,205.7V153.7H1146.9V205.7M1232.3,205.7V169.2H1253.6V205.7M1210.9,205.7V168.7H1242.9V169.2M1339.0,205.7V182.8H1360.3V205.7M1317.7,205.7V172.5H1349.7V182.8M1296.3,205.7V172.1H1333.7V172.5M1275.0,205.7V167.8H1315.0V172.1M1226.9,168.7V161.8H1295.0V167.8M1189.6,205.7V159.6H1260.9V161.8M1168.2,205.7V155.4H1225.3V159.6M1136.2,153.7V142.5H1196.7V155.4M1104.2,205.7V133.0H1166.5V142.5M1403.0,205.7V161.6H1424.4V205.7M1381.7,205.7V157.6H1413.7V161.6M1488.4,205.7V168.5H1509.8V205.7M1467.1,205.7V160.9H1499.1V168.5M1531.1,205.7V165.6H1552.5V205.7M1595.2,205.7V170.4H1616.5V205.7M1573.8,205.7V165.6H1605.9V170.4M1659.2,205.7V176.3H1680.6V205.7M1637.9,205.7V167.6H1669.9V176.3M1589.8,165.6V161.6H1653.9V167.6M1541.8,165.6V157.0H1621.9V161.6M1483.1,160.9V151.0H1581.8V157.0M1445.7,205.7V144.5H1532.5V151.0M1397.7,157.6V142.7H1489.1V144.5M1135.3,133.0V121.1H1443.4V142.7" fill="none" stroke="#333" stroke-width="1.3"/>
<path d="M1083.8,249.1H1077.3V268.1H1083.8M1083.8,287.1H1077.6V306.1H1083.8M1077.3,258.6H1075.8V296.6H1077.6M1083.8,325.1H1078.4V344.1H1083.8M1078.4,334.6H1075.8V363.1H1083.8M1075.8,277.6H1074.6V348.9H1075.8M1083.8,382.1H1077.3V401.2H1083.8M1077.3,391.6H1076.1V420.2H1083.8M1083.8,439.2H1075.6V458.2H1083.8M1076.1,405.9H1071.2V448.7H1075.6M1074.6,313.2H1065.8V427.3H1071.2M1083.8,477.2H1076.1V496.2H1083.8M1076.1,486.7H1075.3V515.2H1083.8M1083.8,534.2H1072.6V553.2H1083.8M1075.3,500.9H1071.5V543.7H1072.6M1071.5,522.3H1067.6V572.2H1083.8M1065.8,370.3H1056.4V547.3H1067.6M1083.8,591.2H1076.3V610.2H1083.8M1083.8,629.2H1075.3V648.2H1083.8M1076.3,600.7H1074.3V638.7H1075.3M1074.3,619.7H1073.4V667.2H1083.8M1083.8,686.2H1075.6V705.2H1083.8M1075.6,695.7H1074.1V724.3H1083.8M1074.1,710.0H1072.7V743.3H1083.8M1073.4,643.5H1070.4V726.6H1072.7M1070.4,685.1H1067.6V762.3H1083.8M1083.8,781.3H1076.1V800.3H1083.8M1076.1,790.8H1072.3V819.3H1083.8M1083.8,838.3H1073.5V857.3H1083.8M1072.3,805.0H1070.0V847.8H1073.5M1067.6,723.7H1064.6V826.4H1070.0M1083.8,876.3H1067.3V895.3H1083.8M1064.6,775.0H1061.5V885.8H1067.3M1083.8,914.3H1058.7V933.3H1083.8M1061.5,830.4H1057.2V923.8H1058.7M1056.4,458.8H1034.6V877.1H1057.2M1034.6,667.9H997.1V952.3H1083.8M1083.8,971.3H1077.3V990.3H1083.8M1077.3,980.8H1069.3V1009.3H1083.8M997.1,810.1H918.8V995.1H1069.3" fill="none" stroke="#333" stroke-width="1.3"/>
<text x="1703.2" y="253.9" font-size="12.7" font-style="italic" font-family="Liberation Sans, Arial, Helvetica, sans-serif">BCL2L1</text>
<text x="1703.2" y="272.9" font-size="12.7" font-style="italic" font-family="Liberation Sans, Arial, Helvetica, sans-serif">STRADB</text>
<text x="1703.2" y="291.9" font-size="12.7" font-style="italic" font-family="Liberation Sans, Arial, Helvetica, sans-serif">GSPT1</text>
<text x="1703.2" y="310.9" font-size="12.7" font-style="italic" font-family="Liberation Sans, Arial, Helvetica, sans-serif">YBX3</text>
<text x="1703.2" y="329.9" font-size="12.7" font-style="italic" font-family="Liberation Sans, Arial, Helvetica, sans-serif">R3HDM4</text>
<text x="1703.2" y="348.9" font-size="12.7" font-style="italic" font-family="Liberation Sans, Arial, Helvetica, sans-serif">OAZ1</text>
<text x="1703.2" y="367.9" font-size="12.7" font-style="italic" font-family="Liberation Sans, Arial, Helvetica, sans-serif">DMTN</text>
<text x="1703.2" y="386.9" font-size="12.7" font-style="italic" font-family="Liberation Sans, Arial, Helvetica, sans-serif">ADIPOR1</text>
<text x="1703.2" y="406.0" font-size="12.7" font-style="italic" font-family="Liberation Sans, Arial, Helvetica, sans-serif">MKRN1</text>
<text x="1703.2" y="425.0" font-size="12.7" font-style="italic" font-family="Liberation Sans, Arial, Helvetica, sans-serif">SLC25A39</text>
<text x="1703.2" y="444.0" font-size="12.7" font-style="italic" font-family="Liberation Sans, Arial, Helvetica, sans-serif">DCAF12</text>
<text x="1703.2" y="463.0" font-size="12.7" font-style="italic" font-family="Liberation Sans, Arial, Helvetica, sans-serif">SLC25A37</text>
<text x="1703.2" y="482.0" font-size="12.7" font-style="italic" font-family="Liberation Sans, Arial, Helvetica, sans-serif">PSMF1</text>
<text x="1703.2" y="501.0" font-size="12.7" font-style="italic" font-family="Liberation Sans, Arial, Helvetica, sans-serif">MPP1</text>
<text x="1703.2" y="520.0" font-size="12.7" font-style="italic" font-family="Liberation Sans, Arial, Helvetica, sans-serif">GPX1</text>
<text x="1703.2" y="539.0" font-size="12.7" font-style="italic" font-family="Liberation Sans, Arial, Helvetica, sans-serif">RIOK3</text>
<text x="1703.2" y="558.0" font-size="12.7" font-style="italic" font-family="Liberation Sans, Arial, Helvetica, sans-serif">GNAS</text>
<text x="1703.2" y="577.0" font-size="12.7" font-style="italic" font-family="Liberation Sans, Arial, Helvetica, sans-serif">TLR2</text>
<text x="1703.2" y="596.0" font-size="12.7" font-style="italic" font-family="Liberation Sans, Arial, Helvetica, sans-serif">RANBP10</text>
<text x="1703.2" y="615.0" font-size="12.7" font-style="italic" font-family="Liberation Sans, Arial, Helvetica, sans-serif">PINK1</text>
<text x="1703.2" y="634.0" font-size="12.7" font-style="italic" font-family="Liberation Sans, Arial, Helvetica, sans-serif">MAF1</text>
<text x="1703.2" y="653.0" font-size="12.7" font-style="italic" font-family="Liberation Sans, Arial, Helvetica, sans-serif">DPM2</text>
<text x="1703.2" y="672.0" font-size="12.7" font-style="italic" font-family="Liberation Sans, Arial, Helvetica, sans-serif">GMPR</text>
<text x="1703.2" y="691.0" font-size="12.7" font-style="italic" font-family="Liberation Sans, Arial, Helvetica, sans-serif">TESC</text>
<text x="1703.2" y="710.0" font-size="12.7" font-style="italic" font-family="Liberation Sans, Arial, Helvetica, sans-serif">NFIX</text>
<text x="1703.2" y="729.1" font-size="12.7" font-style="italic" font-family="Liberation Sans, Arial, Helvetica, sans-serif">TMEM63B</text>
<text x="1703.2" y="748.1" font-size="12.7" font-style="italic" font-family="Liberation Sans, Arial, Helvetica, sans-serif">MARCH2</text>
<text x="1703.2" y="767.1" font-size="12.7" font-style="italic" font-family="Liberation Sans, Arial, Helvetica, sans-serif">OSBP2</text>
<text x="1703.2" y="786.1" font-size="12.7" font-style="italic" font-family="Liberation Sans, Arial, Helvetica, sans-serif">LGALS3</text>
<text x="1703.2" y="805.1" font-size="12.7" font-style="italic" font-family="Liberation Sans, Arial, Helvetica, sans-serif">TSPAN5</text>
<text x="1703.2" y="824.1" font-size="12.7" font-style="italic" font-family="Liberation Sans, Arial, Helvetica, sans-serif">GRINA</text>
<text x="1703.2" y="843.1" font-size="12.7" font-style="italic" font-family="Liberation Sans, Arial, Helvetica, sans-serif">MXI1</text>
<text x="1703.2" y="862.1" font-size="12.7" font-style="italic" font-family="Liberation Sans, Arial, Helvetica, sans-serif">HDGF</text>
<text x="1703.2" y="881.1" font-size="12.7" font-style="italic" font-family="Liberation Sans, Arial, Helvetica, sans-serif">BCL11B</text>
<text x="1703.2" y="900.1" font-size="12.7" font-style="italic" font-family="Liberation Sans, Arial, Helvetica, sans-serif">PUM1</text>
<text x="1703.2" y="919.1" font-size="12.7" font-style="italic" font-family="Liberation Sans, Arial, Helvetica, sans-serif">IFIT1</text>
<text x="1703.2" y="938.1" font-size="12.7" font-style="italic" font-family="Liberation Sans, Arial, Helvetica, sans-serif">TMCC2</text>
<text x="1703.2" y="957.1" font-size="12.7" font-style="italic" font-family="Liberation Sans, Arial, Helvetica, sans-serif">SCAND2P</text>
<text x="1703.2" y="976.1" font-size="12.7" font-style="italic" font-family="Liberation Sans, Arial, Helvetica, sans-serif">HBA2</text>
<text x="1703.2" y="995.1" font-size="12.7" font-style="italic" font-family="Liberation Sans, Arial, Helvetica, sans-serif">HBA1</text>
<text x="1703.2" y="1014.1" font-size="12.7" font-style="italic" font-family="Liberation Sans, Arial, Helvetica, sans-serif">HBB</text>
<text transform="translate(1104.4,1023.9) rotate(-90) scale(0.875,1)" x="0" y="0" font-size="10.6" text-anchor="end" font-family="Liberation Sans, Arial, Helvetica, sans-serif">JG09</text>
<text transform="translate(1125.7,1023.9) rotate(-90) scale(0.875,1)" x="0" y="0" font-size="10.6" text-anchor="end" font-family="Liberation Sans, Arial, Helvetica, sans-serif">JG28</text>
<text transform="translate(1147.1,1023.9) rotate(-90) scale(0.875,1)" x="0" y="0" font-size="10.6" text-anchor="end" font-family="Liberation Sans, Arial, Helvetica, sans-serif">JG07</text>
<text transform="translate(1168.4,1023.9) rotate(-90) scale(0.875,1)" x="0" y="0" font-size="10.6" text-anchor="end" font-family="Liberation Sans, Arial, Helvetica, sans-serif">JG10</text>
<text transform="translate(1189.8,1023.9) rotate(-90) scale(0.875,1)" x="0" y="0" font-size="10.6" text-anchor="end" font-family="Liberation Sans, Arial, Helvetica, sans-serif">JG14</text>
<text transform="translate(1211.1,1023.9) rotate(-90) scale(0.875,1)" x="0" y="0" font-size="10.6" text-anchor="end" font-family="Liberation Sans, Arial, Helvetica, sans-serif">JG25</text>
<text transform="translate(1232.5,1023.9) rotate(-90) scale(0.875,1)" x="0" y="0" font-size="10.6" text-anchor="end" font-family="Liberation Sans, Arial, Helvetica, sans-serif">JG11</text>
<text transform="translate(1253.8,1023.9) rotate(-90) scale(0.875,1)" x="0" y="0" font-size="10.6" text-anchor="end" font-family="Liberation Sans, Arial, Helvetica, sans-serif">JG16</text>
<text transform="translate(1275.2,1023.9) rotate(-90) scale(0.875,1)" x="0" y="0" font-size="10.6" text-anchor="end" font-family="Liberation Sans, Arial, Helvetica, sans-serif">JG02</text>
<text transform="translate(1296.5,1023.9) rotate(-90) scale(0.875,1)" x="0" y="0" font-size="10.6" text-anchor="end" font-family="Liberation Sans, Arial, Helvetica, sans-serif">JG19</text>
<text transform="translate(1317.9,1023.9) rotate(-90) scale(0.875,1)" x="0" y="0" font-size="10.6" text-anchor="end" font-family="Liberation Sans, Arial, Helvetica, sans-serif">JG22</text>
<text transform="translate(1339.2,1023.9) rotate(-90) scale(0.875,1)" x="0" y="0" font-size="10.6" text-anchor="end" font-family="Liberation Sans, Arial, Helvetica, sans-serif">JG04</text>
<text transform="translate(1360.5,1023.9) rotate(-90) scale(0.875,1)" x="0" y="0" font-size="10.6" text-anchor="end" font-family="Liberation Sans, Arial, Helvetica, sans-serif">JG15</text>
<text transform="translate(1381.9,1023.9) rotate(-90) scale(0.875,1)" x="0" y="0" font-size="10.6" text-anchor="end" font-family="Liberation Sans, Arial, Helvetica, sans-serif">JG17</text>
<text transform="translate(1403.2,1023.9) rotate(-90) scale(0.875,1)" x="0" y="0" font-size="10.6" text-anchor="end" font-family="Liberation Sans, Arial, Helvetica, sans-serif">JG21</text>
<text transform="translate(1424.6,1023.9) rotate(-90) scale(0.875,1)" x="0" y="0" font-size="10.6" text-anchor="end" font-family="Liberation Sans, Arial, Helvetica, sans-serif">JG13</text>
<text transform="translate(1445.9,1023.9) rotate(-90) scale(0.875,1)" x="0" y="0" font-size="10.6" text-anchor="end" font-family="Liberation Sans, Arial, Helvetica, sans-serif">JG20</text>
<text transform="translate(1467.3,1023.9) rotate(-90) scale(0.875,1)" x="0" y="0" font-size="10.6" text-anchor="end" font-family="Liberation Sans, Arial, Helvetica, sans-serif">JG24</text>
<text transform="translate(1488.6,1023.9) rotate(-90) scale(0.875,1)" x="0" y="0" font-size="10.6" text-anchor="end" font-family="Liberation Sans, Arial, Helvetica, sans-serif">JG06</text>
<text transform="translate(1510.0,1023.9) rotate(-90) scale(0.875,1)" x="0" y="0" font-size="10.6" text-anchor="end" font-family="Liberation Sans, Arial, Helvetica, sans-serif">JG05</text>
<text transform="translate(1531.3,1023.9) rotate(-90) scale(0.875,1)" x="0" y="0" font-size="10.6" text-anchor="end" font-family="Liberation Sans, Arial, Helvetica, sans-serif">JG23</text>
<text transform="translate(1552.7,1023.9) rotate(-90) scale(0.875,1)" x="0" y="0" font-size="10.6" text-anchor="end" font-family="Liberation Sans, Arial, Helvetica, sans-serif">JG27</text>
<text transform="translate(1574.0,1023.9) rotate(-90) scale(0.875,1)" x="0" y="0" font-size="10.6" text-anchor="end" font-family="Liberation Sans, Arial, Helvetica, sans-serif">JG18</text>
<text transform="translate(1595.4,1023.9) rotate(-90) scale(0.875,1)" x="0" y="0" font-size="10.6" text-anchor="end" font-family="Liberation Sans, Arial, Helvetica, sans-serif">JG03</text>
<text transform="translate(1616.7,1023.9) rotate(-90) scale(0.875,1)" x="0" y="0" font-size="10.6" text-anchor="end" font-family="Liberation Sans, Arial, Helvetica, sans-serif">JG01</text>
<text transform="translate(1638.1,1023.9) rotate(-90) scale(0.875,1)" x="0" y="0" font-size="10.6" text-anchor="end" font-family="Liberation Sans, Arial, Helvetica, sans-serif">JG08</text>
<text transform="translate(1659.4,1023.9) rotate(-90) scale(0.875,1)" x="0" y="0" font-size="10.6" text-anchor="end" font-family="Liberation Sans, Arial, Helvetica, sans-serif">JG26</text>
<text transform="translate(1680.8,1023.9) rotate(-90) scale(0.875,1)" x="0" y="0" font-size="10.6" text-anchor="end" font-family="Liberation Sans, Arial, Helvetica, sans-serif">JG12</text>
<g shape-rendering="crispEdges"><rect x="869.80" y="93.0" width="6.90" height="54.8" fill="#021a60"/><rect x="876.40" y="93.0" width="6.30" height="54.8" fill="#0a2565"/><rect x="882.40" y="93.0" width="6.90" height="54.8" fill="#0b2c6c"/><rect x="889.00" y="93.0" width="7.20" height="54.8" fill="#0b3570"/><rect x="895.90" y="93.0" width="7.20" height="54.8" fill="#0a457d"/><rect x="902.80" y="93.0" width="6.90" height="54.8" fill="#0e528a"/><rect x="909.40" y="93.0" width="6.90" height="54.8" fill="#146096"/><rect x="916.00" y="93.0" width="6.90" height="54.8" fill="#22709b"/><rect x="922.60" y="93.0" width="6.90" height="54.8" fill="#3a82ab"/><rect x="929.20" y="93.0" width="6.90" height="54.8" fill="#5092b5"/><rect x="935.80" y="93.0" width="6.90" height="54.8" fill="#68a2c0"/><rect x="942.40" y="93.0" width="6.90" height="54.8" fill="#82b2ca"/><rect x="949.00" y="93.0" width="7.20" height="54.8" fill="#9dc2d5"/><rect x="955.90" y="93.0" width="6.00" height="54.8" fill="#b9d5e1"/><rect x="961.60" y="93.0" width="6.30" height="54.8" fill="#d0e0e8"/><rect x="967.60" y="93.0" width="8.70" height="54.8" fill="#e3e9ec"/><rect x="976.00" y="93.0" width="6.60" height="54.8" fill="#eeebe0"/><rect x="982.30" y="93.0" width="7.00" height="54.8" fill="#e9dfcc"/><rect x="989.00" y="93.0" width="6.90" height="54.8" fill="#dfd1b1"/><rect x="995.60" y="93.0" width="7.00" height="54.8" fill="#d6c39b"/><rect x="1002.30" y="93.0" width="6.60" height="54.8" fill="#cdb585"/><rect x="1008.60" y="93.0" width="7.00" height="54.8" fill="#c4a770"/><rect x="1015.30" y="93.0" width="6.90" height="54.8" fill="#b8985c"/><rect x="1021.90" y="93.0" width="6.70" height="54.8" fill="#ad8b4a"/><rect x="1028.30" y="93.0" width="6.90" height="54.8" fill="#a47e33"/><rect x="1034.90" y="93.0" width="7.00" height="54.8" fill="#9a6c1e"/><rect x="1041.60" y="93.0" width="6.90" height="54.8" fill="#8c5a0c"/><rect x="1048.20" y="93.0" width="7.00" height="54.8" fill="#844f00"/><rect x="1054.90" y="93.0" width="6.90" height="54.8" fill="#7a4302"/><rect x="1061.50" y="93.0" width="7.00" height="54.8" fill="#6e3602"/><rect x="1068.20" y="93.0" width="6.60" height="54.8" fill="#652a00"/><rect x="1074.50" y="93.0" width="6.90" height="54.8" fill="#5e1d00"/></g>
<rect x="869.8" y="93.0" width="211.3" height="54.8" fill="none" stroke="#222" stroke-width="1"/>
<line x1="899.5" y1="147.8" x2="899.5" y2="154.6" stroke="#222" stroke-width="1"/>
<text x="899.5" y="170.7" font-size="10.3" text-anchor="middle" font-family="Liberation Sans, Arial, Helvetica, sans-serif">-2</text>
<line x1="934.2" y1="147.8" x2="934.2" y2="154.6" stroke="#222" stroke-width="1"/>
<text x="934.2" y="170.7" font-size="10.3" text-anchor="middle" font-family="Liberation Sans, Arial, Helvetica, sans-serif">-1</text>
<line x1="968.9" y1="147.8" x2="968.9" y2="154.6" stroke="#222" stroke-width="1"/>
<text x="968.9" y="170.7" font-size="10.3" text-anchor="middle" font-family="Liberation Sans, Arial, Helvetica, sans-serif">0</text>
<line x1="1003.6" y1="147.8" x2="1003.6" y2="154.6" stroke="#222" stroke-width="1"/>
<text x="1003.6" y="170.7" font-size="10.3" text-anchor="middle" font-family="Liberation Sans, Arial, Helvetica, sans-serif">1</text>
<line x1="1038.3" y1="147.8" x2="1038.3" y2="154.6" stroke="#222" stroke-width="1"/>
<text x="1038.3" y="170.7" font-size="10.3" text-anchor="middle" font-family="Liberation Sans, Arial, Helvetica, sans-serif">2</text>
<line x1="1073.0" y1="147.8" x2="1073.0" y2="154.6" stroke="#222" stroke-width="1"/>
<text x="1073.0" y="170.7" font-size="10.3" text-anchor="middle" font-family="Liberation Sans, Arial, Helvetica, sans-serif">3</text>
<text x="975.2" y="84.8" font-size="12.7" font-weight="bold" text-anchor="middle" font-family="Liberation Sans, Arial, Helvetica, sans-serif">Color Key</text>
<text x="974.1" y="186.6" font-size="10.4" text-anchor="middle" font-family="Liberation Sans, Arial, Helvetica, sans-serif">Row Z-Score</text>
<rect x="1722.1" y="99.4" width="25" height="8.6" fill="#771a2b"/>
<text x="1754.1" y="108.7" font-size="13.9" font-family="Liberation Sans, Arial, Helvetica, sans-serif">Sarcoid</text>
<rect x="1722.1" y="120.9" width="25" height="8.6" fill="#338833"/>
<text x="1754.1" y="130.2" font-size="13.9" font-family="Liberation Sans, Arial, Helvetica, sans-serif">VKH</text>
<rect x="1722.1" y="142.3" width="25" height="8.6" fill="#bebebe"/>
<text x="1754.1" y="151.6" font-size="13.9" font-family="Liberation Sans, Arial, Helvetica, sans-serif">Control</text>
<circle cx="306.4" cy="814.0" r="105.6" fill="none" stroke="#000" stroke-width="2.1"/>
<circle cx="439.3" cy="814.0" r="105.6" fill="none" stroke="#000" stroke-width="2.1"/>
<circle cx="372.6" cy="933.0" r="105.6" fill="none" stroke="#000" stroke-width="2.1"/>
<text x="263.3" y="688.8" font-size="26" text-anchor="middle" font-family="Liberation Sans, Arial, Helvetica, sans-serif">Sarcoid - Control</text>
<text x="490.1" y="688.8" font-size="26" text-anchor="middle" font-family="Liberation Sans, Arial, Helvetica, sans-serif">VKH - Control</text>
<text x="372.4" y="1073.0" font-size="26" text-anchor="middle" font-family="Liberation Sans, Arial, Helvetica, sans-serif">VKH - Sarcoid</text>
<text x="268.9" y="787.0" font-size="25.5" text-anchor="middle" font-family="Liberation Sans, Arial, Helvetica, sans-serif">38</text>
<text x="269.0" y="806.0" font-size="18.5" text-anchor="middle" font-family="Liberation Sans, Arial, Helvetica, sans-serif">(90.5%)</text>
<text x="371.4" y="788.4" font-size="25.5" text-anchor="middle" font-family="Liberation Sans, Arial, Helvetica, sans-serif">0</text>
<text x="477.4" y="786.5" font-size="25.5" text-anchor="middle" font-family="Liberation Sans, Arial, Helvetica, sans-serif">3</text>
<text x="477.5" y="806.0" font-size="18.5" text-anchor="middle" font-family="Liberation Sans, Arial, Helvetica, sans-serif">(7.1%)</text>
<text x="371.0" y="863.2" font-size="25.5" text-anchor="middle" font-family="Liberation Sans, Arial, Helvetica, sans-serif">0</text>
<text x="313.2" y="895.0" font-size="25.5" text-anchor="middle" font-family="Liberation Sans, Arial, Helvetica, sans-serif">0</text>
<text x="430.0" y="895.0" font-size="25.5" text-anchor="middle" font-family="Liberation Sans, Arial, Helvetica, sans-serif">0</text>
<text x="371.0" y="978.0" font-size="25.5" text-anchor="middle" font-family="Liberation Sans, Arial, Helvetica, sans-serif">1</text>
<text x="371.0" y="998.0" font-size="18.5" text-anchor="middle" font-family="Liberation Sans, Arial, Helvetica, sans-serif">(2.4%)</text></svg>
</body></html>
